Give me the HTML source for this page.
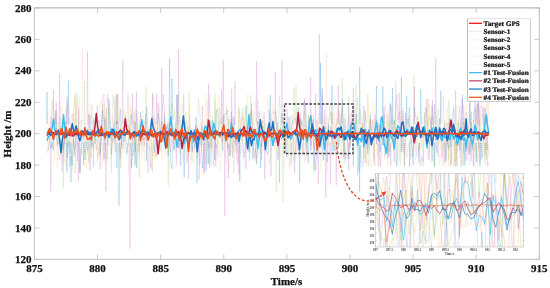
<!DOCTYPE html>
<html><head><meta charset="utf-8"><style>
html,body{margin:0;padding:0;background:#fff;}
svg{display:block;}
text{font-family:"Liberation Serif","Times New Roman",serif;font-weight:bold;fill:#111;stroke:#111;stroke-width:0.25px;}
text.sm{fill:#4a4a4a;stroke:none;font-weight:bold;}
</style></head><body>
<svg width="550" height="288" viewBox="0 0 550 288">
<defs><clipPath id="mclip"><rect x="34.45" y="8.0" width="504.84999999999997" height="251.35000000000002"/></clipPath>
<clipPath id="iclip"><rect x="375.5" y="173.5" width="148.0" height="73.5"/></clipPath></defs>
<rect x="0" y="0" width="550" height="288" fill="#fff"/>
<g clip-path="url(#mclip)"><path d="M47.1,133.8L48.3,133.9L49.6,134.1L50.9,133.3L52.1,133.6L53.4,133.6L54.6,133.2L55.9,133.7L57.2,133.5L58.4,133.7L59.7,133.4L61.0,133.5L62.2,133.6L63.5,133.7L64.7,133.6L66.0,133.4L67.3,134.2L68.5,133.7L69.8,133.8L71.1,133.7L72.3,134.1L73.6,133.5L74.8,133.9L76.1,133.7L77.4,133.8L78.6,134.1L79.9,133.8L81.1,134.1L82.4,133.9L83.7,133.7L84.9,133.7L86.2,133.7L87.5,133.7L88.7,133.2L90.0,133.6L91.2,134.0L92.5,133.8L93.8,133.8L95.0,133.7L96.3,133.8L97.6,133.9L98.8,133.3L100.1,133.7L101.3,133.7L102.6,133.7L103.9,133.7L105.1,133.3L106.4,133.6L107.7,133.4L108.9,134.4L110.2,133.6L111.4,133.4L112.7,133.2L114.0,133.7L115.2,134.1L116.5,133.5L117.8,133.8L119.0,134.1L120.3,133.8L121.5,133.4L122.8,133.4L124.1,133.5L125.3,133.9L126.6,133.1L127.8,133.9L129.1,133.7L130.4,134.0L131.6,133.4L132.9,133.6L134.2,133.5L135.4,133.6L136.7,133.7L137.9,133.6L139.2,134.1L140.5,133.4L141.7,133.5L143.0,133.8L144.3,133.7L145.5,133.6L146.8,133.3L148.0,133.6L149.3,133.7L150.6,133.8L151.8,134.0L153.1,133.8L154.4,133.6L155.6,133.7L156.9,133.6L158.1,133.5L159.4,133.6L160.7,133.6L161.9,133.5L163.2,133.6L164.4,133.7L165.7,133.6L167.0,134.1L168.2,133.4L169.5,134.0L170.8,133.5L172.0,133.7L173.3,133.4L174.5,133.7L175.8,133.9L177.1,133.4L178.3,133.6L179.6,133.6L180.9,133.6L182.1,133.4L183.4,133.5L184.6,133.6L185.9,134.0L187.2,133.8L188.4,133.6L189.7,133.2L191.0,133.6L192.2,133.7L193.5,133.4L194.7,133.7L196.0,133.7L197.3,133.6L198.5,134.0L199.8,133.4L201.1,133.6L202.3,133.7L203.6,133.9L204.8,133.6L206.1,133.3L207.4,133.8L208.6,133.9L209.9,133.6L211.1,134.0L212.4,134.2L213.7,133.8L214.9,133.8L216.2,133.7L217.5,133.8L218.7,133.6L220.0,133.7L221.2,133.8L222.5,133.8L223.8,133.5L225.0,133.4L226.3,133.4L227.6,133.5L228.8,134.4L230.1,133.9L231.3,133.7L232.6,133.6L233.9,134.0L235.1,133.3L236.4,133.6L237.7,133.8L238.9,133.6L240.2,133.7L241.4,133.8L242.7,133.5L244.0,133.8L245.2,134.0L246.5,133.8L247.7,133.7L249.0,133.9L250.3,133.4L251.5,133.9L252.8,133.2L254.1,133.4L255.3,133.9L256.6,133.6L257.8,133.4L259.1,133.7L260.4,133.9L261.6,133.6L262.9,133.2L264.2,134.0L265.4,133.5L266.7,133.7L267.9,133.7L269.2,133.8L270.5,133.7L271.7,133.4L273.0,133.5L274.3,133.9L275.5,133.3L276.8,134.0L278.0,133.5L279.3,133.6L280.6,133.4L281.8,133.6L283.1,133.4L284.4,133.7L285.6,133.4L286.9,133.6L288.1,133.2L289.4,133.8L290.7,133.4L291.9,133.5L293.2,133.6L294.4,133.8L295.7,133.6L297.0,134.0L298.2,134.0L299.5,133.5L300.8,134.0L302.0,133.3L303.3,133.7L304.5,133.6L305.8,133.6L307.1,133.6L308.3,133.7L309.6,133.7L310.9,133.7L312.1,133.4L313.4,133.4L314.6,133.4L315.9,133.6L317.2,133.7L318.4,134.1L319.7,133.5L321.0,133.5L322.2,133.8L323.5,133.5L324.7,133.4L326.0,133.6L327.3,133.4L328.5,133.6L329.8,134.1L331.0,133.8L332.3,133.8L333.6,133.5L334.8,133.9L336.1,133.8L337.4,133.9L338.6,133.7L339.9,133.6L341.1,133.4L342.4,133.5L343.7,133.6L344.9,133.6L346.2,133.6L347.5,133.6L348.7,133.3L350.0,134.2L351.2,133.7L352.5,133.6L353.8,133.4L355.0,133.9L356.3,133.6L357.6,133.5L358.8,133.8L360.1,134.1L361.3,133.7L362.6,133.9L363.9,133.5L365.1,133.9L366.4,133.2L367.7,133.6L368.9,133.8L370.2,133.8L371.4,133.9L372.7,133.6L374.0,133.3L375.2,133.7L376.5,133.4L377.7,133.9L379.0,133.6L380.3,133.1L381.5,134.0L382.8,133.4L384.1,133.4L385.3,134.1L386.6,134.0L387.8,133.9L389.1,133.4L390.4,133.8L391.6,133.7L392.9,133.5L394.2,133.6L395.4,133.6L396.7,133.7L397.9,133.4L399.2,133.8L400.5,133.3L401.7,133.7L403.0,133.8L404.3,133.5L405.5,133.6L406.8,134.1L408.0,133.6L409.3,134.0L410.6,133.9L411.8,133.5L413.1,133.9L414.3,133.6L415.6,133.7L416.9,133.2L418.1,133.7L419.4,133.9L420.7,133.9L421.9,133.9L423.2,133.6L424.4,133.7L425.7,133.4L427.0,133.6L428.2,133.6L429.5,133.6L430.8,133.7L432.0,133.6L433.3,133.5L434.5,133.5L435.8,133.8L437.1,134.1L438.3,133.8L439.6,133.6L440.9,134.2L442.1,133.8L443.4,133.6L444.6,133.8L445.9,133.9L447.2,133.2L448.4,133.3L449.7,133.7L451.0,133.3L452.2,133.4L453.5,133.9L454.7,133.0L456.0,133.9L457.3,133.7L458.5,133.9L459.8,133.6L461.0,134.0L462.3,133.7L463.6,133.4L464.8,133.6L466.1,133.7L467.4,133.3L468.6,133.9L469.9,133.4L471.1,133.7L472.4,133.6L473.7,133.7L474.9,133.6L476.2,133.7L477.5,133.8L478.7,133.8L480.0,133.6L481.2,133.7L482.5,133.9L483.8,133.8L485.0,133.8L486.3,133.7L487.6,133.6L488.8,133.6" stroke="#ff0000" stroke-width="1.3" fill="none"/><path d="M47.1,133.7L48.3,128.5L49.6,138.4L50.9,149.1L52.1,141.5L53.4,150.8L54.6,132.6L55.9,110.5L57.2,142.2L58.4,144.4L59.7,125.2L61.0,127.5L62.2,131.9L63.5,149.8L64.7,134.2L66.0,121.7L67.3,156.9L68.5,141.6L69.8,166.5L71.1,156.0L72.3,165.5L73.6,137.7L74.8,155.6L76.1,129.0L77.4,131.0L78.6,136.9L79.9,172.9L81.1,143.0L82.4,134.5L83.7,131.7L84.9,160.1L86.2,141.9L87.5,150.6L88.7,147.7L90.0,115.3L91.2,147.6L92.5,134.2L93.8,118.4L95.0,143.8L96.3,135.6L97.6,131.8L98.8,132.6L100.1,154.8L101.3,132.4L102.6,110.2L103.9,160.4L105.1,118.8L106.4,131.6L107.7,144.8L108.9,99.1L110.2,120.5L111.4,154.4L112.7,132.4L114.0,123.7L115.2,136.9L116.5,121.9L117.8,134.8L119.0,122.1L120.3,108.8L121.5,145.4L122.8,130.2L124.1,141.7L125.3,131.5L126.6,154.2L127.8,143.7L129.1,137.1L130.4,118.1L131.6,113.9L132.9,156.5L134.2,147.4L135.4,122.5L136.7,168.1L137.9,141.7L139.2,135.4L140.5,112.0L141.7,121.8L143.0,139.3L144.3,140.0L145.5,138.0L146.8,107.3L148.0,141.1L149.3,138.9L150.6,127.6L151.8,135.8L153.1,137.1L154.4,152.9L155.6,133.9L156.9,141.3L158.1,113.5L159.4,122.4L160.7,134.1L161.9,122.1L163.2,139.5L164.4,115.5L165.7,133.8L167.0,123.6L168.2,156.0L169.5,127.7L170.8,162.8L172.0,168.8L173.3,138.9L174.5,149.2L175.8,130.8L177.1,94.9L178.3,148.0L179.6,144.5L180.9,130.1L182.1,125.2L183.4,136.7L184.6,137.2L185.9,121.5L187.2,124.7L188.4,151.5L189.7,135.0L191.0,133.1L192.2,151.9L193.5,129.2L194.7,148.5L196.0,116.9L197.3,130.3L198.5,132.1L199.8,143.9L201.1,135.7L202.3,168.2L203.6,153.2L204.8,127.4L206.1,170.5L207.4,119.0L208.6,163.8L209.9,120.6L211.1,148.3L212.4,120.2L213.7,131.4L214.9,160.2L216.2,112.1L217.5,108.8L218.7,134.8L220.0,138.4L221.2,136.4L222.5,150.5L223.8,114.7L225.0,143.1L226.3,134.6L227.6,147.4L228.8,144.5L230.1,155.8L231.3,112.0L232.6,136.3L233.9,117.0L235.1,133.4L236.4,145.7L237.7,139.3L238.9,143.4L240.2,133.5L241.4,140.2L242.7,138.9L244.0,157.5L245.2,147.6L246.5,105.1L247.7,145.3L249.0,151.9L250.3,127.8L251.5,109.4L252.8,158.8L254.1,137.3L255.3,144.6L256.6,164.1L257.8,121.0L259.1,134.1L260.4,132.4L261.6,146.7L262.9,125.8L264.2,143.0L265.4,136.1L266.7,152.8L267.9,154.7L269.2,110.6L270.5,142.4L271.7,128.6L273.0,134.3L274.3,141.3L275.5,142.5L276.8,122.8L278.0,138.9L279.3,136.3L280.6,133.3L281.8,113.3L283.1,121.9L284.4,127.1L285.6,143.4L286.9,157.6L288.1,117.3L289.4,117.0L290.7,136.1L291.9,124.3L293.2,120.2L294.4,119.3L295.7,117.8L297.0,141.5L298.2,107.5L299.5,155.2L300.8,118.8L302.0,125.1L303.3,118.6L304.5,101.2L305.8,108.0L307.1,153.5L308.3,162.9L309.6,119.6L310.9,151.2L312.1,133.9L313.4,119.2L314.6,162.1L315.9,170.1L317.2,129.2L318.4,132.9L319.7,137.9L321.0,133.0L322.2,148.5L323.5,159.8L324.7,136.6L326.0,150.5L327.3,162.1L328.5,124.9L329.8,134.7L331.0,126.7L332.3,150.8L333.6,145.0L334.8,150.9L336.1,149.0L337.4,130.3L338.6,147.2L339.9,127.5L341.1,127.8L342.4,98.7L343.7,157.7L344.9,118.3L346.2,135.2L347.5,133.9L348.7,158.7L350.0,141.6L351.2,120.8L352.5,135.1L353.8,132.3L355.0,138.7L356.3,113.7L357.6,134.0L358.8,171.7L360.1,145.6L361.3,167.7L362.6,172.9L363.9,142.8L365.1,110.6L366.4,132.9L367.7,153.9L368.9,149.9L370.2,114.1L371.4,131.0L372.7,132.8L374.0,134.6L375.2,133.0L376.5,119.8L377.7,124.1L379.0,129.9L380.3,151.7L381.5,124.8L382.8,145.5L384.1,114.8L385.3,155.6L386.6,136.1L387.8,133.8L389.1,156.6L390.4,103.9L391.6,108.4L392.9,141.7L394.2,120.3L395.4,127.1L396.7,172.9L397.9,129.3L399.2,134.7L400.5,132.2L401.7,152.3L403.0,138.3L404.3,136.8L405.5,113.1L406.8,127.9L408.0,133.8L409.3,107.3L410.6,143.3L411.8,140.4L413.1,165.1L414.3,106.6L415.6,117.0L416.9,117.8L418.1,122.1L419.4,131.8L420.7,130.0L421.9,138.0L423.2,137.2L424.4,132.7L425.7,107.6L427.0,124.1L428.2,134.7L429.5,143.7L430.8,144.6L432.0,106.0L433.3,124.9L434.5,132.5L435.8,139.7L437.1,152.8L438.3,134.8L439.6,118.6L440.9,140.5L442.1,137.6L443.4,137.5L444.6,131.8L445.9,161.2L447.2,137.7L448.4,148.4L449.7,118.4L451.0,147.0L452.2,123.7L453.5,107.3L454.7,139.1L456.0,144.1L457.3,130.4L458.5,133.7L459.8,150.8L461.0,125.7L462.3,98.8L463.6,138.1L464.8,137.2L466.1,151.7L467.4,128.2L468.6,155.2L469.9,152.8L471.1,111.6L472.4,149.3L473.7,115.0L474.9,107.3L476.2,129.2L477.5,124.1L478.7,99.9L480.0,137.1L481.2,143.9L482.5,157.1L483.8,133.0L485.0,108.1L486.3,117.1L487.6,150.0L488.8,148.5M46.55,124.2L47.00,91.9L47.45,124.2M68.05,124.2L68.50,80.5L68.95,124.2M169.15,124.2L169.60,59.0L170.05,124.2M171.55,124.2L172.00,78.5L172.45,124.2M269.85,124.2L270.30,95.0L270.75,124.2M320.05,124.2L320.50,63.0L320.95,124.2M321.75,124.2L322.20,88.0L322.65,124.2M331.55,124.2L332.00,85.3L332.45,124.2M359.25,124.2L359.70,67.2L360.15,124.2M375.95,124.2L376.40,86.0L376.85,124.2M382.35,124.2L382.80,86.7L383.25,124.2M392.05,124.2L392.50,88.0L392.95,124.2M400.95,124.2L401.40,77.0L401.85,124.2M406.25,124.2L406.70,95.5L407.15,124.2M420.35,124.2L420.80,89.4L421.25,124.2M440.35,124.2L440.80,90.8L441.25,124.2M469.35,124.2L469.80,102.5L470.25,124.2M66.45,143.1L66.90,172.0L67.35,143.1M70.55,143.1L71.00,182.0L71.45,143.1M83.05,143.1L83.50,164.8L83.95,143.1M116.45,143.1L116.90,168.0L117.35,143.1M118.55,143.1L119.00,205.6L119.45,143.1M131.05,143.1L131.50,168.0L131.95,143.1M134.55,143.1L135.00,165.8L135.45,143.1M146.25,143.1L146.70,160.6L147.15,143.1M180.35,143.1L180.80,165.8L181.25,143.1M183.75,143.1L184.20,177.3L184.65,143.1M196.55,143.1L197.00,183.0L197.45,143.1M239.35,143.1L239.80,181.5L240.25,143.1M260.15,143.1L260.60,168.0L261.05,143.1M278.95,143.1L279.40,182.5L279.85,143.1M299.15,143.1L299.60,182.5L300.05,143.1M352.85,143.1L353.30,165.8L353.75,143.1M359.15,143.1L359.60,191.9L360.05,143.1M409.15,143.1L409.60,166.9L410.05,143.1M418.55,143.1L419.00,162.7L419.45,143.1M431.57,143.1L432.02,161.0L432.47,143.1M434.09,143.1L434.54,167.3L434.99,143.1M464.38,143.1L464.83,165.3L465.28,143.1M475.74,143.1L476.19,162.4L476.64,143.1M479.53,143.1L479.98,167.4L480.43,143.1" stroke="#1a8fd6" stroke-opacity="0.38" stroke-width="0.75" stroke-dasharray="1.5 0.4" fill="none"/><path d="M47.1,142.4L48.3,128.6L49.6,137.2L50.9,130.0L52.1,128.5L53.4,138.8L54.6,134.4L55.9,130.1L57.2,135.1L58.4,125.0L59.7,101.3L61.0,123.4L62.2,132.7L63.5,162.8L64.7,127.0L66.0,167.3L67.3,158.0L68.5,118.9L69.8,121.5L71.1,136.3L72.3,163.2L73.6,140.1L74.8,145.4L76.1,122.7L77.4,94.7L78.6,129.9L79.9,147.1L81.1,153.9L82.4,134.6L83.7,136.7L84.9,153.6L86.2,131.7L87.5,153.6L88.7,114.5L90.0,115.3L91.2,114.9L92.5,141.9L93.8,124.8L95.0,136.0L96.3,140.4L97.6,139.5L98.8,156.1L100.1,158.6L101.3,119.9L102.6,137.0L103.9,129.9L105.1,116.4L106.4,163.6L107.7,147.2L108.9,130.6L110.2,126.9L111.4,140.2L112.7,115.9L114.0,130.0L115.2,154.6L116.5,149.8L117.8,119.8L119.0,125.7L120.3,166.5L121.5,110.4L122.8,123.3L124.1,110.5L125.3,140.3L126.6,138.8L127.8,153.1L129.1,94.4L130.4,136.7L131.6,106.2L132.9,144.9L134.2,130.8L135.4,162.6L136.7,140.3L137.9,116.7L139.2,155.3L140.5,115.1L141.7,127.8L143.0,151.7L144.3,142.3L145.5,141.6L146.8,134.5L148.0,142.9L149.3,148.0L150.6,138.9L151.8,151.4L153.1,156.0L154.4,134.5L155.6,118.4L156.9,160.1L158.1,133.6L159.4,144.9L160.7,150.6L161.9,118.9L163.2,142.6L164.4,107.8L165.7,147.2L167.0,127.0L168.2,137.6L169.5,146.7L170.8,123.5L172.0,136.4L173.3,123.3L174.5,134.5L175.8,152.4L177.1,135.4L178.3,132.8L179.6,117.1L180.9,149.3L182.1,134.4L183.4,163.4L184.6,122.4L185.9,152.4L187.2,164.9L188.4,134.7L189.7,114.6L191.0,160.0L192.2,152.5L193.5,146.5L194.7,153.2L196.0,127.1L197.3,147.6L198.5,146.1L199.8,123.6L201.1,146.7L202.3,126.2L203.6,150.5L204.8,154.6L206.1,165.4L207.4,101.5L208.6,139.2L209.9,129.5L211.1,134.2L212.4,130.9L213.7,132.8L214.9,100.7L216.2,151.6L217.5,160.6L218.7,151.2L220.0,156.7L221.2,120.8L222.5,119.5L223.8,150.3L225.0,157.7L226.3,139.8L227.6,109.6L228.8,172.9L230.1,124.6L231.3,152.3L232.6,115.7L233.9,152.3L235.1,138.6L236.4,159.7L237.7,150.6L238.9,109.7L240.2,119.5L241.4,140.6L242.7,148.7L244.0,166.4L245.2,140.5L246.5,134.2L247.7,135.1L249.0,135.3L250.3,153.1L251.5,134.8L252.8,134.3L254.1,111.4L255.3,101.4L256.6,136.0L257.8,146.9L259.1,134.8L260.4,144.2L261.6,146.5L262.9,134.7L264.2,151.7L265.4,123.2L266.7,135.5L267.9,129.4L269.2,136.8L270.5,146.2L271.7,150.1L273.0,137.8L274.3,143.2L275.5,129.6L276.8,133.8L278.0,157.2L279.3,132.5L280.6,156.9L281.8,144.3L283.1,138.8L284.4,169.5L285.6,132.1L286.9,131.1L288.1,136.4L289.4,141.0L290.7,140.1L291.9,150.5L293.2,138.3L294.4,143.2L295.7,132.1L297.0,154.5L298.2,129.6L299.5,131.2L300.8,136.1L302.0,141.3L303.3,124.1L304.5,162.4L305.8,125.7L307.1,129.5L308.3,128.8L309.6,127.1L310.9,145.0L312.1,138.2L313.4,122.7L314.6,126.2L315.9,130.1L317.2,159.8L318.4,124.4L319.7,113.5L321.0,116.2L322.2,129.6L323.5,160.6L324.7,117.4L326.0,136.2L327.3,172.9L328.5,127.2L329.8,159.5L331.0,156.1L332.3,144.6L333.6,111.7L334.8,140.1L336.1,129.0L337.4,103.5L338.6,106.1L339.9,135.5L341.1,137.8L342.4,155.5L343.7,145.7L344.9,126.3L346.2,126.8L347.5,131.8L348.7,116.5L350.0,147.0L351.2,134.6L352.5,121.0L353.8,123.6L355.0,115.2L356.3,126.8L357.6,139.0L358.8,127.4L360.1,151.0L361.3,162.0L362.6,123.6L363.9,134.6L365.1,128.3L366.4,163.0L367.7,140.0L368.9,144.0L370.2,148.6L371.4,172.6L372.7,139.5L374.0,118.2L375.2,127.1L376.5,144.1L377.7,133.9L379.0,120.6L380.3,172.9L381.5,135.8L382.8,124.3L384.1,121.9L385.3,104.3L386.6,114.1L387.8,128.3L389.1,128.5L390.4,120.1L391.6,143.0L392.9,134.4L394.2,118.0L395.4,99.8L396.7,136.4L397.9,134.5L399.2,130.2L400.5,110.5L401.7,134.2L403.0,108.3L404.3,150.4L405.5,136.9L406.8,137.1L408.0,120.1L409.3,115.6L410.6,159.8L411.8,149.5L413.1,127.9L414.3,145.1L415.6,160.0L416.9,115.7L418.1,125.1L419.4,125.2L420.7,141.9L421.9,115.9L423.2,137.8L424.4,114.7L425.7,149.4L427.0,148.4L428.2,130.1L429.5,145.8L430.8,122.0L432.0,129.2L433.3,149.6L434.5,132.4L435.8,139.7L437.1,117.8L438.3,144.6L439.6,141.3L440.9,112.7L442.1,95.0L443.4,99.1L444.6,132.6L445.9,129.9L447.2,107.2L448.4,135.8L449.7,150.5L451.0,131.7L452.2,125.9L453.5,148.0L454.7,162.1L456.0,158.5L457.3,122.2L458.5,146.8L459.8,136.1L461.0,130.0L462.3,123.0L463.6,139.5L464.8,125.1L466.1,149.1L467.4,139.9L468.6,151.4L469.9,114.1L471.1,134.1L472.4,146.5L473.7,139.8L474.9,137.5L476.2,121.6L477.5,161.2L478.7,151.6L480.0,140.2L481.2,94.4L482.5,117.2L483.8,135.6L485.0,121.4L486.3,98.1L487.6,137.7L488.8,140.0M82.15,124.2L82.60,48.0L83.05,124.2M325.95,124.2L326.40,52.0L326.85,124.2M111.25,143.1L111.70,160.6L112.15,143.1M127.85,143.1L128.30,174.0L128.75,143.1M304.95,143.1L305.40,160.6L305.85,143.1M384.15,143.1L384.60,159.6L385.05,143.1M442.93,143.1L443.38,167.9L443.83,143.1M445.45,143.1L445.90,167.4L446.35,143.1M455.55,143.1L456.00,166.2L456.45,143.1M466.91,143.1L467.36,160.3L467.81,143.1M469.43,143.1L469.88,165.7L470.33,143.1M487.10,143.1L487.55,167.6L488.00,143.1" stroke="#e0603a" stroke-opacity="0.12" stroke-width="0.75" stroke-dasharray="1.5 0.4" fill="none"/><path d="M47.1,112.7L48.3,125.1L49.6,122.1L50.9,142.5L52.1,100.4L53.4,104.1L54.6,123.9L55.9,121.9L57.2,168.7L58.4,122.7L59.7,137.0L61.0,126.2L62.2,121.9L63.5,139.6L64.7,162.9L66.0,127.3L67.3,146.5L68.5,139.4L69.8,144.1L71.1,139.6L72.3,172.9L73.6,112.6L74.8,129.3L76.1,114.5L77.4,99.5L78.6,133.3L79.9,164.8L81.1,149.1L82.4,154.5L83.7,142.3L84.9,132.3L86.2,168.3L87.5,127.8L88.7,159.8L90.0,128.5L91.2,135.6L92.5,139.1L93.8,134.9L95.0,143.0L96.3,144.3L97.6,162.8L98.8,134.2L100.1,101.8L101.3,99.5L102.6,110.8L103.9,121.5L105.1,145.4L106.4,108.7L107.7,134.6L108.9,134.9L110.2,138.7L111.4,132.1L112.7,141.2L114.0,135.1L115.2,152.4L116.5,140.1L117.8,94.4L119.0,134.9L120.3,137.8L121.5,124.5L122.8,121.4L124.1,152.9L125.3,137.3L126.6,117.8L127.8,129.0L129.1,131.6L130.4,106.8L131.6,145.4L132.9,132.2L134.2,142.7L135.4,107.9L136.7,167.4L137.9,145.3L139.2,142.8L140.5,122.2L141.7,123.2L143.0,109.6L144.3,160.9L145.5,120.7L146.8,138.7L148.0,145.2L149.3,124.4L150.6,149.6L151.8,169.6L153.1,140.1L154.4,159.6L155.6,144.9L156.9,127.3L158.1,128.3L159.4,106.3L160.7,137.1L161.9,160.2L163.2,146.7L164.4,149.6L165.7,154.7L167.0,126.2L168.2,144.8L169.5,167.8L170.8,121.6L172.0,135.6L173.3,127.5L174.5,131.8L175.8,122.8L177.1,133.0L178.3,112.3L179.6,126.3L180.9,126.9L182.1,126.6L183.4,158.8L184.6,136.5L185.9,138.2L187.2,130.1L188.4,157.2L189.7,105.4L191.0,131.9L192.2,154.6L193.5,163.2L194.7,138.5L196.0,135.2L197.3,146.1L198.5,132.1L199.8,144.8L201.1,124.1L202.3,146.2L203.6,134.3L204.8,116.8L206.1,94.4L207.4,151.1L208.6,141.7L209.9,148.2L211.1,120.1L212.4,153.5L213.7,142.0L214.9,134.2L216.2,150.6L217.5,150.2L218.7,141.9L220.0,170.0L221.2,158.7L222.5,140.8L223.8,131.1L225.0,136.9L226.3,164.3L227.6,141.7L228.8,119.9L230.1,124.1L231.3,135.0L232.6,149.0L233.9,122.8L235.1,143.7L236.4,153.9L237.7,147.5L238.9,108.6L240.2,129.9L241.4,113.6L242.7,142.0L244.0,117.5L245.2,144.1L246.5,136.4L247.7,94.4L249.0,120.4L250.3,142.3L251.5,135.1L252.8,128.0L254.1,112.8L255.3,142.1L256.6,163.8L257.8,138.5L259.1,133.4L260.4,131.8L261.6,110.9L262.9,128.2L264.2,119.6L265.4,152.7L266.7,118.7L267.9,97.5L269.2,120.3L270.5,129.3L271.7,131.0L273.0,102.8L274.3,149.7L275.5,135.6L276.8,125.7L278.0,120.8L279.3,141.2L280.6,128.4L281.8,138.5L283.1,131.6L284.4,136.0L285.6,153.4L286.9,134.0L288.1,118.5L289.4,150.4L290.7,137.8L291.9,122.2L293.2,152.2L294.4,130.5L295.7,152.0L297.0,114.1L298.2,94.4L299.5,98.7L300.8,137.5L302.0,120.9L303.3,131.6L304.5,131.9L305.8,106.9L307.1,156.5L308.3,115.4L309.6,134.5L310.9,109.3L312.1,130.4L313.4,145.3L314.6,128.9L315.9,121.0L317.2,133.1L318.4,125.2L319.7,142.7L321.0,170.5L322.2,118.1L323.5,121.6L324.7,131.1L326.0,132.5L327.3,115.8L328.5,141.6L329.8,145.9L331.0,136.9L332.3,113.1L333.6,157.6L334.8,113.1L336.1,144.7L337.4,152.7L338.6,111.9L339.9,135.3L341.1,156.1L342.4,139.9L343.7,117.6L344.9,113.1L346.2,141.1L347.5,126.7L348.7,121.3L350.0,144.8L351.2,127.5L352.5,134.2L353.8,142.9L355.0,142.2L356.3,132.5L357.6,133.2L358.8,143.4L360.1,141.0L361.3,114.4L362.6,130.0L363.9,118.4L365.1,112.9L366.4,123.5L367.7,94.4L368.9,147.9L370.2,119.7L371.4,139.2L372.7,101.6L374.0,104.3L375.2,167.4L376.5,150.4L377.7,122.2L379.0,120.0L380.3,120.9L381.5,134.9L382.8,125.8L384.1,122.4L385.3,135.0L386.6,115.9L387.8,172.7L389.1,122.7L390.4,151.5L391.6,117.1L392.9,137.6L394.2,149.0L395.4,127.2L396.7,149.4L397.9,149.4L399.2,160.8L400.5,134.1L401.7,125.1L403.0,116.0L404.3,136.1L405.5,115.6L406.8,133.4L408.0,135.3L409.3,123.8L410.6,115.4L411.8,139.6L413.1,137.9L414.3,136.5L415.6,132.2L416.9,149.2L418.1,115.9L419.4,140.6L420.7,125.7L421.9,147.9L423.2,127.5L424.4,126.9L425.7,140.9L427.0,98.8L428.2,127.3L429.5,103.0L430.8,117.1L432.0,145.1L433.3,140.3L434.5,126.1L435.8,132.6L437.1,132.8L438.3,138.6L439.6,164.9L440.9,137.6L442.1,172.0L443.4,127.2L444.6,146.2L445.9,146.0L447.2,137.5L448.4,129.0L449.7,158.4L451.0,163.9L452.2,152.1L453.5,169.0L454.7,150.4L456.0,106.2L457.3,151.9L458.5,122.4L459.8,157.4L461.0,128.5L462.3,139.2L463.6,134.7L464.8,123.8L466.1,103.3L467.4,130.3L468.6,131.5L469.9,150.5L471.1,123.6L472.4,137.9L473.7,119.3L474.9,134.4L476.2,103.6L477.5,167.9L478.7,138.8L480.0,118.4L481.2,139.7L482.5,147.4L483.8,138.3L485.0,157.5L486.3,131.6L487.6,94.4L488.8,113.9M61.45,124.2L61.90,104.8L62.35,124.2M73.95,124.2L74.40,99.6L74.85,124.2M79.15,124.2L79.60,96.5L80.05,124.2M89.55,124.2L90.00,103.8L90.45,124.2M104.15,124.2L104.60,104.8L105.05,124.2M109.35,124.2L109.80,103.8L110.25,124.2M218.45,124.2L218.90,95.0L219.35,124.2M367.55,124.2L368.00,93.6L368.45,124.2M428.05,124.2L428.50,98.8L428.95,124.2M443.05,124.2L443.50,96.4L443.95,124.2M487.55,124.2L488.00,105.0L488.45,124.2M53.95,143.1L54.40,161.7L54.85,143.1M101.85,143.1L102.30,165.8L102.75,143.1M141.45,143.1L141.90,159.6L142.35,143.1M191.45,143.1L191.90,164.8L192.35,143.1M254.95,143.1L255.40,160.6L255.85,143.1M366.45,143.1L366.90,165.8L367.35,143.1M432.83,143.1L433.28,163.3L433.73,143.1M447.98,143.1L448.43,165.7L448.88,143.1M455.55,143.1L456.00,160.9L456.45,143.1" stroke="#e8b030" stroke-opacity="0.2" stroke-width="0.75" stroke-dasharray="1.5 0.4" fill="none"/><path d="M47.1,152.8L48.3,148.8L49.6,140.7L50.9,116.3L52.1,147.9L53.4,145.6L54.6,118.4L55.9,118.7L57.2,140.1L58.4,153.0L59.7,160.5L61.0,145.8L62.2,172.2L63.5,120.7L64.7,144.6L66.0,125.4L67.3,101.4L68.5,113.4L69.8,153.6L71.1,118.7L72.3,113.7L73.6,146.6L74.8,150.1L76.1,135.6L77.4,161.3L78.6,108.3L79.9,172.9L81.1,152.8L82.4,138.3L83.7,137.6L84.9,130.8L86.2,129.0L87.5,137.4L88.7,114.0L90.0,170.6L91.2,133.7L92.5,146.0L93.8,131.4L95.0,129.9L96.3,149.4L97.6,144.8L98.8,120.0L100.1,127.6L101.3,145.4L102.6,98.4L103.9,94.4L105.1,158.9L106.4,128.5L107.7,94.4L108.9,120.1L110.2,129.9L111.4,137.3L112.7,143.0L114.0,137.3L115.2,143.2L116.5,120.8L117.8,140.6L119.0,141.3L120.3,154.4L121.5,134.5L122.8,149.1L124.1,136.8L125.3,115.7L126.6,127.4L127.8,125.0L129.1,127.5L130.4,132.7L131.6,135.9L132.9,139.0L134.2,120.6L135.4,152.4L136.7,110.5L137.9,133.1L139.2,146.6L140.5,142.1L141.7,145.4L143.0,130.9L144.3,146.1L145.5,113.9L146.8,147.2L148.0,172.9L149.3,146.3L150.6,168.4L151.8,134.4L153.1,115.4L154.4,122.5L155.6,156.8L156.9,146.8L158.1,102.9L159.4,128.2L160.7,133.6L161.9,115.4L163.2,94.4L164.4,111.3L165.7,131.3L167.0,127.5L168.2,123.0L169.5,144.3L170.8,152.0L172.0,132.8L173.3,150.0L174.5,134.7L175.8,132.0L177.1,94.4L178.3,148.4L179.6,135.8L180.9,136.5L182.1,126.1L183.4,115.6L184.6,142.2L185.9,147.9L187.2,162.0L188.4,149.7L189.7,124.4L191.0,132.9L192.2,151.2L193.5,140.1L194.7,133.1L196.0,125.0L197.3,143.9L198.5,138.0L199.8,165.1L201.1,153.6L202.3,105.7L203.6,171.5L204.8,139.5L206.1,129.9L207.4,140.1L208.6,147.6L209.9,134.7L211.1,133.8L212.4,135.1L213.7,166.1L214.9,136.2L216.2,148.5L217.5,143.1L218.7,129.8L220.0,122.6L221.2,118.2L222.5,142.3L223.8,117.7L225.0,113.4L226.3,114.0L227.6,109.7L228.8,136.2L230.1,136.7L231.3,119.4L232.6,157.3L233.9,130.1L235.1,142.8L236.4,140.0L237.7,163.8L238.9,149.1L240.2,134.0L241.4,118.3L242.7,116.6L244.0,135.1L245.2,136.9L246.5,148.0L247.7,126.7L249.0,138.0L250.3,123.2L251.5,103.4L252.8,134.2L254.1,159.5L255.3,148.6L256.6,158.9L257.8,154.4L259.1,111.1L260.4,129.8L261.6,159.9L262.9,122.4L264.2,111.9L265.4,139.9L266.7,145.4L267.9,139.5L269.2,128.8L270.5,122.6L271.7,113.2L273.0,112.7L274.3,113.2L275.5,110.1L276.8,122.2L278.0,160.1L279.3,135.9L280.6,128.3L281.8,140.3L283.1,117.9L284.4,139.9L285.6,149.7L286.9,108.7L288.1,122.2L289.4,129.9L290.7,117.7L291.9,115.3L293.2,127.8L294.4,172.9L295.7,145.3L297.0,141.6L298.2,150.7L299.5,130.2L300.8,113.1L302.0,142.1L303.3,153.3L304.5,98.6L305.8,141.5L307.1,155.0L308.3,129.6L309.6,126.3L310.9,145.9L312.1,120.0L313.4,142.1L314.6,149.6L315.9,130.6L317.2,120.4L318.4,144.6L319.7,128.0L321.0,135.3L322.2,94.4L323.5,145.9L324.7,109.8L326.0,134.6L327.3,135.9L328.5,121.2L329.8,118.2L331.0,111.8L332.3,128.0L333.6,144.1L334.8,143.0L336.1,124.9L337.4,123.6L338.6,109.5L339.9,126.4L341.1,115.4L342.4,107.5L343.7,130.8L344.9,159.3L346.2,154.1L347.5,158.5L348.7,106.2L350.0,148.3L351.2,112.4L352.5,123.6L353.8,104.0L355.0,116.3L356.3,135.4L357.6,137.1L358.8,132.2L360.1,130.6L361.3,142.8L362.6,134.2L363.9,105.9L365.1,163.1L366.4,129.2L367.7,149.3L368.9,130.4L370.2,119.2L371.4,134.7L372.7,120.3L374.0,161.1L375.2,114.5L376.5,144.1L377.7,122.9L379.0,130.5L380.3,172.9L381.5,146.7L382.8,129.9L384.1,106.8L385.3,128.7L386.6,129.2L387.8,158.1L389.1,108.9L390.4,102.4L391.6,133.2L392.9,137.5L394.2,161.7L395.4,118.4L396.7,94.4L397.9,121.3L399.2,111.8L400.5,124.3L401.7,150.7L403.0,110.6L404.3,155.0L405.5,137.3L406.8,128.9L408.0,118.4L409.3,126.5L410.6,127.0L411.8,146.8L413.1,156.0L414.3,132.6L415.6,145.9L416.9,156.3L418.1,155.6L419.4,142.1L420.7,165.7L421.9,157.0L423.2,161.9L424.4,130.5L425.7,126.6L427.0,99.0L428.2,159.6L429.5,145.4L430.8,117.9L432.0,137.4L433.3,139.3L434.5,104.1L435.8,139.5L437.1,153.7L438.3,156.4L439.6,127.9L440.9,128.4L442.1,157.4L443.4,150.7L444.6,124.4L445.9,123.7L447.2,144.8L448.4,122.9L449.7,123.8L451.0,164.5L452.2,139.1L453.5,126.5L454.7,143.6L456.0,170.6L457.3,138.6L458.5,120.7L459.8,106.4L461.0,171.5L462.3,94.4L463.6,153.2L464.8,117.1L466.1,112.3L467.4,116.7L468.6,131.1L469.9,153.7L471.1,122.8L472.4,146.0L473.7,172.9L474.9,94.4L476.2,121.4L477.5,102.3L478.7,149.4L480.0,108.3L481.2,106.2L482.5,106.8L483.8,134.0L485.0,154.5L486.3,136.7L487.6,171.7L488.8,163.1M53.05,124.2L53.50,89.5L53.95,124.2M59.15,124.2L59.60,73.7L60.05,124.2M87.05,124.2L87.50,51.4L87.95,124.2M116.15,124.2L116.60,94.3L117.05,124.2M55.80,124.2L56.25,101.7L56.70,124.2M66.65,124.2L67.10,96.5L67.55,124.2M96.85,124.2L97.30,105.8L97.75,124.2M114.55,124.2L115.00,96.5L115.45,124.2M122.35,124.2L122.80,60.3L123.25,124.2M132.05,124.2L132.50,94.0L132.95,124.2M135.95,124.2L136.40,92.0L136.85,124.2M152.15,124.2L152.60,92.6L153.05,124.2M156.25,124.2L156.70,93.6L157.15,124.2M161.35,124.2L161.80,67.6L162.25,124.2M178.15,124.2L178.60,49.0L179.05,124.2M183.25,124.2L183.70,94.0L184.15,124.2M208.15,124.2L208.60,84.0L209.05,124.2M221.25,124.2L221.70,89.4L222.15,124.2M222.85,124.2L223.30,60.3L223.75,124.2M231.25,124.2L231.70,88.9L232.15,124.2M234.55,124.2L235.00,81.7L235.45,124.2M256.25,124.2L256.70,61.0L257.15,124.2M274.85,124.2L275.30,72.2L275.75,124.2M281.55,124.2L282.00,59.4L282.45,124.2M310.15,124.2L310.60,77.0L311.05,124.2M315.15,124.2L315.60,93.6L316.05,124.2M318.95,124.2L319.40,33.9L319.85,124.2M337.85,124.2L338.30,85.3L338.75,124.2M352.85,124.2L353.30,88.0L353.75,124.2M398.75,124.2L399.20,92.8L399.65,124.2M413.95,124.2L414.40,86.7L414.85,124.2M435.35,124.2L435.80,57.5L436.25,124.2M455.15,124.2L455.60,90.8L456.05,124.2M432.15,124.2L432.60,100.0L433.05,124.2M477.85,124.2L478.30,103.7L478.75,124.2M483.15,124.2L483.60,107.0L484.05,124.2M50.35,143.1L50.80,191.3L51.25,143.1M77.85,143.1L78.30,180.8L78.75,143.1M92.85,143.1L93.30,167.5L93.75,143.1M99.75,143.1L100.20,169.6L100.65,143.1M105.55,143.1L106.00,191.3L106.45,143.1M129.55,143.1L130.00,248.8L130.45,143.1M175.85,143.1L176.30,164.8L176.75,143.1M188.30,143.1L188.75,179.4L189.20,143.1M198.75,143.1L199.20,179.4L199.65,143.1M203.95,143.1L204.40,174.0L204.85,143.1M209.15,143.1L209.60,168.0L210.05,143.1M215.35,143.1L215.80,166.9L216.25,143.1M224.35,143.1L224.80,215.8L225.25,143.1M227.85,143.1L228.30,178.3L228.75,143.1M238.30,143.1L238.75,174.0L239.20,143.1M245.55,143.1L246.00,169.0L246.45,143.1M249.15,143.1L249.60,160.6L250.05,143.1M264.35,143.1L264.80,179.4L265.25,143.1M270.55,143.1L271.00,176.2L271.45,143.1M290.80,143.1L291.25,164.8L291.70,143.1M313.30,143.1L313.75,170.0L314.20,143.1M317.85,143.1L318.30,183.5L318.75,143.1M325.35,143.1L325.80,198.0L326.25,143.1M329.95,143.1L330.40,184.6L330.85,143.1M335.80,143.1L336.25,185.6L336.70,143.1M348.30,143.1L348.75,170.0L349.20,143.1M377.85,143.1L378.30,166.9L378.75,143.1M390.35,143.1L390.80,165.8L391.25,143.1M403.95,143.1L404.40,165.8L404.85,143.1M444.19,143.1L444.64,162.7L445.09,143.1M465.65,143.1L466.10,160.4L466.55,143.1M470.70,143.1L471.15,161.0L471.60,143.1M480.79,143.1L481.24,160.3L481.69,143.1" stroke="#c058c0" stroke-opacity="0.32" stroke-width="0.75" stroke-dasharray="1.5 0.4" fill="none"/><path d="M47.1,132.1L48.3,150.8L49.6,136.5L50.9,135.6L52.1,100.3L53.4,111.3L54.6,134.5L55.9,112.8L57.2,147.1L58.4,139.5L59.7,117.9L61.0,155.1L62.2,138.5L63.5,156.5L64.7,131.6L66.0,105.5L67.3,146.7L68.5,129.8L69.8,149.2L71.1,153.5L72.3,155.0L73.6,108.5L74.8,94.4L76.1,125.3L77.4,146.1L78.6,121.5L79.9,139.5L81.1,119.8L82.4,128.6L83.7,128.8L84.9,123.2L86.2,143.7L87.5,140.7L88.7,163.4L90.0,141.3L91.2,158.3L92.5,136.2L93.8,150.2L95.0,131.9L96.3,125.8L97.6,158.2L98.8,147.7L100.1,150.0L101.3,120.8L102.6,104.2L103.9,119.0L105.1,139.7L106.4,108.4L107.7,159.8L108.9,107.8L110.2,145.0L111.4,172.9L112.7,94.4L114.0,106.4L115.2,151.5L116.5,130.8L117.8,137.4L119.0,131.9L120.3,159.3L121.5,145.5L122.8,125.6L124.1,129.8L125.3,113.0L126.6,132.3L127.8,94.4L129.1,146.0L130.4,129.2L131.6,166.8L132.9,155.3L134.2,110.7L135.4,150.0L136.7,124.5L137.9,134.7L139.2,151.7L140.5,139.7L141.7,142.6L143.0,142.1L144.3,120.7L145.5,122.4L146.8,143.7L148.0,149.4L149.3,128.8L150.6,135.4L151.8,115.9L153.1,94.4L154.4,119.1L155.6,134.3L156.9,136.6L158.1,148.5L159.4,149.3L160.7,151.0L161.9,140.5L163.2,141.1L164.4,120.8L165.7,140.6L167.0,137.1L168.2,154.7L169.5,105.3L170.8,124.9L172.0,102.8L173.3,119.9L174.5,107.9L175.8,138.0L177.1,121.3L178.3,94.4L179.6,154.8L180.9,113.3L182.1,104.3L183.4,126.4L184.6,120.5L185.9,111.6L187.2,145.3L188.4,126.5L189.7,149.0L191.0,145.6L192.2,144.6L193.5,136.2L194.7,131.1L196.0,125.7L197.3,158.7L198.5,98.7L199.8,113.2L201.1,120.8L202.3,140.0L203.6,135.3L204.8,124.0L206.1,126.4L207.4,163.4L208.6,120.6L209.9,94.4L211.1,166.4L212.4,116.1L213.7,127.1L214.9,135.7L216.2,109.4L217.5,154.6L218.7,130.8L220.0,107.7L221.2,137.2L222.5,141.1L223.8,131.6L225.0,141.6L226.3,106.2L227.6,149.8L228.8,118.2L230.1,155.9L231.3,121.8L232.6,135.5L233.9,172.9L235.1,133.8L236.4,152.6L237.7,141.6L238.9,106.3L240.2,153.5L241.4,152.5L242.7,108.1L244.0,131.6L245.2,106.3L246.5,127.9L247.7,149.3L249.0,134.9L250.3,111.8L251.5,117.0L252.8,133.7L254.1,132.8L255.3,135.7L256.6,144.0L257.8,99.4L259.1,133.5L260.4,153.8L261.6,142.1L262.9,120.8L264.2,122.3L265.4,136.1L266.7,145.6L267.9,133.3L269.2,163.4L270.5,156.8L271.7,119.5L273.0,142.2L274.3,127.0L275.5,112.0L276.8,122.1L278.0,133.3L279.3,95.9L280.6,121.8L281.8,140.0L283.1,120.7L284.4,126.4L285.6,148.9L286.9,132.4L288.1,136.6L289.4,168.6L290.7,136.7L291.9,138.7L293.2,141.5L294.4,162.9L295.7,140.0L297.0,134.4L298.2,131.9L299.5,153.8L300.8,122.4L302.0,155.3L303.3,137.7L304.5,110.5L305.8,146.0L307.1,142.7L308.3,114.6L309.6,140.5L310.9,138.9L312.1,129.7L313.4,115.0L314.6,172.8L315.9,148.4L317.2,151.6L318.4,152.9L319.7,148.8L321.0,148.6L322.2,128.3L323.5,149.4L324.7,131.5L326.0,126.6L327.3,146.6L328.5,131.4L329.8,104.7L331.0,128.0L332.3,145.0L333.6,134.8L334.8,149.9L336.1,128.9L337.4,118.4L338.6,148.2L339.9,137.4L341.1,114.0L342.4,142.5L343.7,130.4L344.9,151.8L346.2,148.1L347.5,142.7L348.7,96.1L350.0,140.7L351.2,142.8L352.5,143.4L353.8,136.5L355.0,122.3L356.3,130.4L357.6,98.1L358.8,130.0L360.1,108.7L361.3,128.9L362.6,123.2L363.9,158.6L365.1,135.9L366.4,134.9L367.7,137.9L368.9,170.9L370.2,118.5L371.4,140.4L372.7,141.2L374.0,138.1L375.2,137.6L376.5,126.6L377.7,155.6L379.0,149.8L380.3,128.7L381.5,131.2L382.8,140.2L384.1,143.6L385.3,148.1L386.6,134.7L387.8,113.3L389.1,152.0L390.4,107.4L391.6,119.1L392.9,141.5L394.2,120.1L395.4,159.0L396.7,163.6L397.9,156.0L399.2,140.8L400.5,139.3L401.7,142.6L403.0,132.0L404.3,170.6L405.5,125.1L406.8,158.2L408.0,145.1L409.3,140.8L410.6,153.7L411.8,157.4L413.1,151.1L414.3,133.9L415.6,123.5L416.9,123.9L418.1,150.9L419.4,147.4L420.7,149.6L421.9,125.9L423.2,168.9L424.4,112.3L425.7,142.1L427.0,147.2L428.2,127.8L429.5,115.8L430.8,127.8L432.0,115.5L433.3,131.4L434.5,112.4L435.8,112.2L437.1,135.4L438.3,108.8L439.6,130.8L440.9,132.2L442.1,149.6L443.4,138.7L444.6,120.2L445.9,156.4L447.2,122.4L448.4,127.7L449.7,128.9L451.0,171.8L452.2,135.5L453.5,122.5L454.7,146.9L456.0,132.1L457.3,172.9L458.5,122.1L459.8,145.1L461.0,118.6L462.3,165.5L463.6,121.7L464.8,137.8L466.1,119.7L467.4,149.7L468.6,144.4L469.9,94.9L471.1,148.0L472.4,145.9L473.7,138.5L474.9,151.3L476.2,113.1L477.5,103.9L478.7,145.8L480.0,163.5L481.2,113.4L482.5,114.5L483.8,119.5L485.0,113.7L486.3,148.7L487.6,136.6L488.8,157.6M75.55,124.2L76.00,92.0L76.45,124.2M84.15,124.2L84.60,81.0L85.05,124.2M91.55,124.2L92.00,104.8L92.45,124.2M116.55,124.2L117.00,94.4L117.45,124.2M117.45,124.2L117.90,94.0L118.35,124.2M145.55,124.2L146.00,87.0L146.45,124.2M188.55,124.2L189.00,92.0L189.45,124.2M214.55,124.2L215.00,93.6L215.45,124.2M250.35,124.2L250.80,95.0L251.25,124.2M293.45,124.2L293.90,88.0L294.35,124.2M295.55,124.2L296.00,84.4L296.45,124.2M341.75,124.2L342.20,78.3L342.65,124.2M355.65,124.2L356.10,85.3L356.55,124.2M395.35,124.2L395.80,81.0L396.25,124.2M413.45,124.2L413.90,74.0L414.35,124.2M448.55,124.2L449.00,100.0L449.45,124.2M463.25,124.2L463.70,105.0L464.15,124.2M62.85,143.1L63.30,187.7L63.75,143.1M74.75,143.1L75.20,173.0L75.65,143.1M120.55,143.1L121.00,168.0L121.45,143.1M138.75,143.1L139.20,177.3L139.65,143.1M151.85,143.1L152.30,173.0L152.75,143.1M167.85,143.1L168.30,185.6L168.75,143.1M275.80,143.1L276.25,191.9L276.70,143.1M282.45,143.1L282.90,202.3L283.35,143.1M344.55,143.1L345.00,163.7L345.45,143.1M357.05,143.1L357.50,176.2L357.95,143.1M373.75,143.1L374.20,164.8L374.65,143.1M399.75,143.1L400.20,164.8L400.65,143.1M429.05,143.1L429.50,160.0L429.95,143.1M434.09,143.1L434.54,167.0L434.99,143.1M447.98,143.1L448.43,159.3L448.88,143.1M454.29,143.1L454.74,168.0L455.19,143.1M463.12,143.1L463.57,166.4L464.02,143.1M473.22,143.1L473.67,165.9L474.12,143.1M475.74,143.1L476.19,158.7L476.64,143.1M484.58,143.1L485.03,164.5L485.48,143.1M485.84,143.1L486.29,159.8L486.74,143.1" stroke="#80b040" stroke-opacity="0.26" stroke-width="0.75" stroke-dasharray="1.5 0.4" fill="none"/><path d="M47.1,140.7L48.3,136.7L49.6,135.9L50.9,132.9L52.1,128.5L53.4,119.0L54.6,128.5L55.9,132.8L57.2,132.2L58.4,130.7L59.7,133.9L61.0,134.1L62.2,129.3L63.5,114.8L64.7,127.0L66.0,137.4L67.3,135.4L68.5,133.2L69.8,130.2L71.1,133.0L72.3,134.7L73.6,133.5L74.8,131.0L76.1,132.9L77.4,132.9L78.6,132.6L79.9,132.9L81.1,133.6L82.4,133.6L83.7,134.8L84.9,132.4L86.2,134.7L87.5,132.9L88.7,131.7L90.0,133.3L91.2,135.3L92.5,134.7L93.8,132.8L95.0,131.9L96.3,132.9L97.6,132.7L98.8,134.3L100.1,134.0L101.3,135.7L102.6,134.0L103.9,135.9L105.1,137.1L106.4,133.3L107.7,132.2L108.9,137.4L110.2,133.7L111.4,128.9L112.7,130.2L114.0,129.1L115.2,133.3L116.5,135.1L117.8,134.7L119.0,133.1L120.3,132.2L121.5,131.6L122.8,134.8L124.1,132.5L125.3,133.7L126.6,133.7L127.8,131.9L129.1,132.5L130.4,136.8L131.6,136.3L132.9,134.6L134.2,133.4L135.4,131.6L136.7,134.8L137.9,134.2L139.2,132.6L140.5,128.4L141.7,119.8L143.0,127.8L144.3,132.6L145.5,132.8L146.8,133.0L148.0,131.2L149.3,135.7L150.6,133.5L151.8,133.3L153.1,134.0L154.4,135.3L155.6,136.8L156.9,134.8L158.1,133.9L159.4,132.7L160.7,135.3L161.9,132.6L163.2,132.3L164.4,133.9L165.7,135.2L167.0,135.3L168.2,135.3L169.5,127.7L170.8,116.7L172.0,127.7L173.3,135.7L174.5,134.8L175.8,138.3L177.1,147.0L178.3,138.3L179.6,131.8L180.9,134.5L182.1,136.9L183.4,138.8L184.6,143.3L185.9,134.7L187.2,133.5L188.4,134.0L189.7,134.7L191.0,133.8L192.2,134.6L193.5,142.0L194.7,130.1L196.0,132.8L197.3,132.6L198.5,134.1L199.8,135.8L201.1,136.2L202.3,135.8L203.6,132.9L204.8,126.9L206.1,126.4L207.4,131.8L208.6,133.5L209.9,135.0L211.1,134.6L212.4,130.5L213.7,123.2L214.9,127.8L216.2,135.1L217.5,134.6L218.7,133.0L220.0,133.9L221.2,133.8L222.5,132.4L223.8,133.0L225.0,133.3L226.3,132.8L227.6,136.3L228.8,136.2L230.1,136.9L231.3,123.2L232.6,129.5L233.9,136.3L235.1,135.1L236.4,134.4L237.7,134.2L238.9,130.8L240.2,129.2L241.4,133.0L242.7,136.5L244.0,134.6L245.2,132.9L246.5,134.0L247.7,129.7L249.0,114.8L250.3,128.6L251.5,136.1L252.8,135.6L254.1,131.9L255.3,129.4L256.6,136.1L257.8,148.4L259.1,139.3L260.4,131.5L261.6,131.5L262.9,131.6L264.2,131.2L265.4,133.2L266.7,133.5L267.9,132.8L269.2,131.2L270.5,134.6L271.7,137.8L273.0,145.6L274.3,137.8L275.5,138.8L276.8,135.8L278.0,142.2L279.3,138.6L280.6,135.5L281.8,131.4L283.1,129.4L284.4,132.0L285.6,129.5L286.9,123.2L288.1,131.0L289.4,134.6L290.7,139.5L291.9,137.0L293.2,133.9L294.4,133.5L295.7,135.0L297.0,133.7L298.2,133.6L299.5,132.2L300.8,133.2L302.0,134.4L303.3,134.0L304.5,133.7L305.8,136.7L307.1,141.9L308.3,132.2L309.6,120.2L310.9,115.9L312.1,130.4L313.4,129.8L314.6,131.2L315.9,129.9L317.2,140.9L318.4,134.7L319.7,143.4L321.0,131.9L322.2,133.1L323.5,140.6L324.7,149.4L326.0,138.1L327.3,135.7L328.5,135.2L329.8,132.6L331.0,133.3L332.3,138.0L333.6,136.4L334.8,132.6L336.1,134.7L337.4,128.8L338.6,129.8L339.9,130.7L341.1,129.0L342.4,132.9L343.7,139.3L344.9,138.4L346.2,139.2L347.5,132.9L348.7,130.4L350.0,134.7L351.2,125.2L352.5,122.5L353.8,123.6L355.0,131.3L356.3,135.1L357.6,145.1L358.8,138.1L360.1,138.9L361.3,141.8L362.6,130.0L363.9,146.9L365.1,129.4L366.4,133.6L367.7,137.9L368.9,129.9L370.2,135.5L371.4,142.9L372.7,139.7L374.0,135.6L375.2,128.5L376.5,122.8L377.7,132.0L379.0,141.2L380.3,125.9L381.5,116.9L382.8,120.5L384.1,144.5L385.3,147.2L386.6,153.2L387.8,139.5L389.1,134.4L390.4,134.3L391.6,138.3L392.9,139.5L394.2,148.9L395.4,137.8L396.7,130.2L397.9,125.6L399.2,127.5L400.5,135.6L401.7,137.3L403.0,132.4L404.3,135.9L405.5,134.6L406.8,129.3L408.0,130.5L409.3,131.4L410.6,133.2L411.8,131.3L413.1,127.3L414.3,134.3L415.6,136.3L416.9,136.5L418.1,132.7L419.4,130.5L420.7,135.0L421.9,134.9L423.2,128.5L424.4,126.8L425.7,132.4L427.0,147.8L428.2,134.7L429.5,134.1L430.8,133.5L432.0,127.9L433.3,135.4L434.5,133.5L435.8,127.3L437.1,130.8L438.3,136.4L439.6,133.9L440.9,138.1L442.1,140.8L443.4,130.6L444.6,137.3L445.9,137.4L447.2,134.1L448.4,138.1L449.7,139.7L451.0,134.3L452.2,132.1L453.5,139.1L454.7,136.4L456.0,134.4L457.3,144.6L458.5,141.1L459.8,130.0L461.0,128.0L462.3,137.5L463.6,140.2L464.8,138.2L466.1,146.6L467.4,138.2L468.6,135.2L469.9,131.1L471.1,139.7L472.4,144.2L473.7,138.1L474.9,125.2L476.2,129.8L477.5,139.7L478.7,135.4L480.0,133.7L481.2,133.6L482.5,137.5L483.8,137.8L485.0,122.8L486.3,114.8L487.6,125.9L488.8,133.8" stroke="#3cbcf0" stroke-width="1.5" fill="none" stroke-linejoin="round"/><path d="M47.1,132.6L48.3,132.6L49.6,132.4L50.9,131.0L52.1,132.3L53.4,132.9L54.6,134.5L55.9,133.5L57.2,133.1L58.4,134.0L59.7,134.2L61.0,133.9L62.2,133.4L63.5,132.9L64.7,134.1L66.0,135.1L67.3,133.3L68.5,135.1L69.8,135.3L71.1,132.0L72.3,135.7L73.6,136.1L74.8,133.3L76.1,134.7L77.4,131.0L78.6,135.3L79.9,133.6L81.1,131.1L82.4,131.3L83.7,133.7L84.9,134.1L86.2,135.0L87.5,133.2L88.7,134.4L90.0,134.5L91.2,132.6L92.5,134.2L93.8,134.8L95.0,126.6L96.3,113.6L97.6,126.6L98.8,132.3L100.1,135.2L101.3,135.0L102.6,134.8L103.9,134.6L105.1,133.6L106.4,134.2L107.7,132.7L108.9,133.9L110.2,132.9L111.4,133.3L112.7,132.7L114.0,134.0L115.2,134.8L116.5,135.6L117.8,133.5L119.0,131.7L120.3,130.1L121.5,131.0L122.8,133.3L124.1,130.3L125.3,118.9L126.6,128.9L127.8,131.6L129.1,131.6L130.4,134.4L131.6,135.7L132.9,132.7L134.2,132.1L135.4,133.5L136.7,132.7L137.9,133.7L139.2,134.4L140.5,134.6L141.7,136.4L143.0,133.6L144.3,134.2L145.5,134.7L146.8,134.9L148.0,133.0L149.3,133.0L150.6,133.5L151.8,136.0L153.1,135.0L154.4,135.4L155.6,133.7L156.9,140.8L158.1,154.0L159.4,140.8L160.7,132.0L161.9,133.0L163.2,133.7L164.4,134.2L165.7,132.7L167.0,131.6L168.2,134.6L169.5,134.0L170.8,134.9L172.0,135.5L173.3,133.6L174.5,135.3L175.8,136.4L177.1,132.1L178.3,131.6L179.6,135.0L180.9,138.9L182.1,148.4L183.4,140.2L184.6,137.5L185.9,136.8L187.2,133.5L188.4,132.5L189.7,133.5L191.0,133.6L192.2,133.0L193.5,136.0L194.7,135.5L196.0,134.8L197.3,136.9L198.5,140.6L199.8,135.6L201.1,133.7L202.3,135.5L203.6,135.2L204.8,131.2L206.1,133.2L207.4,132.1L208.6,120.2L209.9,128.1L211.1,132.1L212.4,134.7L213.7,133.5L214.9,133.2L216.2,132.1L217.5,134.1L218.7,133.9L220.0,132.4L221.2,132.2L222.5,133.4L223.8,132.9L225.0,133.3L226.3,132.6L227.6,135.1L228.8,136.7L230.1,133.7L231.3,134.4L232.6,134.4L233.9,133.9L235.1,134.2L236.4,134.4L237.7,132.1L238.9,135.8L240.2,134.2L241.4,130.3L242.7,129.5L244.0,126.5L245.2,131.4L246.5,131.2L247.7,134.0L249.0,132.4L250.3,127.1L251.5,130.8L252.8,132.9L254.1,132.7L255.3,134.0L256.6,134.1L257.8,134.6L259.1,134.8L260.4,134.1L261.6,133.6L262.9,135.0L264.2,132.4L265.4,132.7L266.7,135.4L267.9,134.2L269.2,136.0L270.5,133.8L271.7,133.4L273.0,133.4L274.3,133.4L275.5,134.4L276.8,137.8L278.0,145.6L279.3,137.8L280.6,135.2L281.8,133.4L283.1,134.3L284.4,135.8L285.6,131.8L286.9,132.4L288.1,131.1L289.4,132.2L290.7,133.8L291.9,133.7L293.2,132.8L294.4,131.8L295.7,132.5L297.0,126.3L298.2,112.6L299.5,126.3L300.8,131.8L302.0,134.6L303.3,135.6L304.5,133.9L305.8,133.9L307.1,133.8L308.3,133.8L309.6,134.2L310.9,133.1L312.1,130.0L313.4,132.5L314.6,134.1L315.9,134.6L317.2,136.5L318.4,135.0L319.7,128.1L321.0,129.8L322.2,132.4L323.5,134.7L324.7,133.9L326.0,133.2L327.3,135.5L328.5,133.8L329.8,136.2L331.0,131.2L332.3,131.5L333.6,133.7L334.8,138.2L336.1,134.0L337.4,135.0L338.6,133.9L339.9,136.1L341.1,137.4L342.4,134.6L343.7,135.8L344.9,133.0L346.2,132.8L347.5,132.7L348.7,135.9L350.0,135.2L351.2,132.7L352.5,131.6L353.8,135.1L355.0,137.6L356.3,137.2L357.6,135.4L358.8,133.8L360.1,132.8L361.3,132.2L362.6,130.9L363.9,130.1L365.1,136.6L366.4,134.6L367.7,132.3L368.9,133.9L370.2,135.6L371.4,139.9L372.7,139.8L374.0,134.7L375.2,136.3L376.5,135.5L377.7,137.9L379.0,132.9L380.3,133.3L381.5,133.3L382.8,135.4L384.1,135.9L385.3,134.0L386.6,132.6L387.8,133.1L389.1,132.5L390.4,132.0L391.6,132.9L392.9,133.8L394.2,134.4L395.4,132.8L396.7,130.5L397.9,132.5L399.2,133.3L400.5,134.2L401.7,135.8L403.0,135.8L404.3,133.0L405.5,132.0L406.8,131.1L408.0,132.9L409.3,133.1L410.6,132.0L411.8,131.8L413.1,136.5L414.3,142.7L415.6,136.3L416.9,129.7L418.1,122.2L419.4,129.7L420.7,133.5L421.9,131.7L423.2,133.1L424.4,134.4L425.7,134.5L427.0,134.7L428.2,134.2L429.5,135.8L430.8,132.2L432.0,132.0L433.3,133.0L434.5,134.2L435.8,136.0L437.1,134.7L438.3,134.5L439.6,132.5L440.9,132.8L442.1,131.6L443.4,132.0L444.6,132.5L445.9,133.4L447.2,133.7L448.4,133.0L449.7,128.9L451.0,119.9L452.2,128.9L453.5,130.3L454.7,132.1L456.0,134.4L457.3,135.5L458.5,136.2L459.8,132.7L461.0,132.2L462.3,132.9L463.6,131.5L464.8,129.7L466.1,133.6L467.4,133.7L468.6,132.9L469.9,132.8L471.1,132.9L472.4,133.6L473.7,131.9L474.9,132.0L476.2,133.1L477.5,132.4L478.7,132.1L480.0,132.8L481.2,133.4L482.5,135.4L483.8,138.7L485.0,135.4L486.3,135.4L487.6,134.9L488.8,135.0" stroke="#b8203f" stroke-width="1.5" fill="none" stroke-linejoin="round"/><path d="M47.1,132.5L48.3,134.0L49.6,133.8L50.9,135.3L52.1,133.2L53.4,132.9L54.6,132.9L55.9,134.6L57.2,133.6L58.4,130.0L59.7,140.3L61.0,152.6L62.2,140.3L63.5,133.1L64.7,133.2L66.0,137.4L67.3,134.1L68.5,132.9L69.8,133.1L71.1,130.4L72.3,123.5L73.6,131.4L74.8,131.0L76.1,125.7L77.4,131.8L78.6,136.8L79.9,140.7L81.1,136.2L82.4,131.2L83.7,131.4L84.9,131.0L86.2,132.0L87.5,130.6L88.7,134.6L90.0,133.0L91.2,133.5L92.5,131.8L93.8,133.5L95.0,136.0L96.3,132.6L97.6,131.1L98.8,129.9L100.1,130.7L101.3,133.0L102.6,134.8L103.9,135.1L105.1,134.2L106.4,134.5L107.7,134.2L108.9,137.1L110.2,134.5L111.4,132.8L112.7,129.5L114.0,131.4L115.2,135.0L116.5,134.2L117.8,136.5L119.0,139.7L120.3,137.6L121.5,132.4L122.8,131.9L124.1,135.1L125.3,135.1L126.6,132.4L127.8,132.0L129.1,133.0L130.4,135.2L131.6,135.4L132.9,133.6L134.2,131.8L135.4,134.1L136.7,136.1L137.9,133.4L139.2,135.8L140.5,132.4L141.7,130.6L143.0,131.9L144.3,131.2L145.5,132.2L146.8,133.0L148.0,135.2L149.3,135.5L150.6,129.3L151.8,118.7L153.1,127.3L154.4,130.6L155.6,133.1L156.9,134.3L158.1,132.7L159.4,132.3L160.7,131.2L161.9,134.6L163.2,132.9L164.4,138.6L165.7,148.2L167.0,139.8L168.2,132.9L169.5,134.2L170.8,133.0L172.0,135.4L173.3,135.2L174.5,132.0L175.8,133.6L177.1,134.2L178.3,134.5L179.6,137.0L180.9,136.8L182.1,127.5L183.4,115.9L184.6,127.5L185.9,134.5L187.2,139.6L188.4,148.0L189.7,138.3L191.0,130.6L192.2,134.5L193.5,134.1L194.7,132.2L196.0,140.0L197.3,151.8L198.5,140.0L199.8,133.0L201.1,132.9L202.3,134.3L203.6,139.8L204.8,133.5L206.1,136.8L207.4,134.3L208.6,133.6L209.9,133.0L211.1,133.1L212.4,135.6L213.7,132.2L214.9,130.9L216.2,131.1L217.5,132.6L218.7,134.7L220.0,134.4L221.2,133.8L222.5,135.0L223.8,133.5L225.0,132.8L226.3,132.9L227.6,134.4L228.8,132.4L230.1,132.7L231.3,137.5L232.6,136.3L233.9,135.0L235.1,136.8L236.4,134.4L237.7,134.9L238.9,141.5L240.2,135.0L241.4,133.5L242.7,134.7L244.0,135.1L245.2,133.1L246.5,137.5L247.7,148.9L249.0,137.6L250.3,137.5L251.5,145.7L252.8,139.1L254.1,139.7L255.3,134.2L256.6,134.4L257.8,134.8L259.1,132.1L260.4,119.8L261.6,128.1L262.9,131.7L264.2,137.7L265.4,149.3L266.7,136.4L267.9,128.8L269.2,122.8L270.5,131.0L271.7,129.8L273.0,121.6L274.3,132.4L275.5,133.3L276.8,133.5L278.0,134.4L279.3,131.6L280.6,131.4L281.8,134.0L283.1,137.2L284.4,134.6L285.6,132.0L286.9,133.4L288.1,137.7L289.4,136.4L290.7,135.5L291.9,133.3L293.2,131.8L294.4,131.7L295.7,134.6L297.0,134.4L298.2,139.2L299.5,149.5L300.8,139.2L302.0,130.9L303.3,132.2L304.5,132.9L305.8,134.5L307.1,134.2L308.3,135.9L309.6,134.4L310.9,131.5L312.1,123.9L313.4,129.4L314.6,134.3L315.9,137.6L317.2,139.3L318.4,140.7L319.7,146.6L321.0,138.9L322.2,134.6L323.5,126.7L324.7,134.3L326.0,139.7L327.3,138.1L328.5,130.4L329.8,135.5L331.0,135.5L332.3,136.3L333.6,133.8L334.8,134.2L336.1,137.0L337.4,128.9L338.6,128.0L339.9,129.3L341.1,126.9L342.4,135.5L343.7,135.3L344.9,139.8L346.2,134.3L347.5,131.6L348.7,135.5L350.0,139.3L351.2,133.9L352.5,137.6L353.8,137.7L355.0,139.7L356.3,139.3L357.6,136.3L358.8,134.2L360.1,132.6L361.3,128.3L362.6,130.3L363.9,131.5L365.1,140.3L366.4,143.5L367.7,136.6L368.9,133.2L370.2,137.5L371.4,144.8L372.7,137.4L374.0,136.8L375.2,136.9L376.5,133.5L377.7,138.4L379.0,137.0L380.3,133.4L381.5,137.1L382.8,132.3L384.1,128.0L385.3,130.1L386.6,137.4L387.8,136.4L389.1,130.7L390.4,130.4L391.6,133.5L392.9,134.6L394.2,136.2L395.4,132.3L396.7,137.1L397.9,138.5L399.2,132.2L400.5,133.9L401.7,122.8L403.0,122.0L404.3,131.2L405.5,136.3L406.8,135.0L408.0,133.7L409.3,133.8L410.6,132.8L411.8,126.9L413.1,131.0L414.3,138.1L415.6,131.0L416.9,124.9L418.1,128.7L419.4,129.9L420.7,137.4L421.9,133.3L423.2,127.6L424.4,133.5L425.7,133.9L427.0,143.6L428.2,140.0L429.5,130.2L430.8,135.0L432.0,145.7L433.3,136.9L434.5,132.5L435.8,127.4L437.1,139.3L438.3,137.9L439.6,127.9L440.9,134.0L442.1,136.0L443.4,128.5L444.6,128.6L445.9,132.2L447.2,140.6L448.4,136.8L449.7,129.9L451.0,129.7L452.2,132.8L453.5,124.6L454.7,128.8L456.0,136.4L457.3,136.0L458.5,137.8L459.8,136.6L461.0,139.5L462.3,134.3L463.6,135.9L464.8,134.4L466.1,118.8L467.4,135.3L468.6,137.3L469.9,131.4L471.1,128.7L472.4,135.3L473.7,135.4L474.9,131.6L476.2,133.0L477.5,133.1L478.7,133.5L480.0,138.3L481.2,140.4L482.5,132.2L483.8,131.1L485.0,130.6L486.3,133.1L487.6,132.7L488.8,132.3" stroke="#1f6fc0" stroke-width="1.5" fill="none" stroke-linejoin="round"/><path d="M47.1,136.0L48.3,131.6L49.6,128.5L50.9,131.6L52.1,133.5L53.4,139.5L54.6,134.2L55.9,130.4L57.2,132.6L58.4,133.9L59.7,134.9L61.0,128.9L62.2,129.3L63.5,135.8L64.7,138.1L66.0,127.4L67.3,133.8L68.5,132.8L69.8,128.5L71.1,135.9L72.3,132.2L73.6,132.9L74.8,132.0L76.1,132.9L77.4,129.1L78.6,132.5L79.9,135.5L81.1,131.2L82.4,133.9L83.7,135.8L84.9,127.5L86.2,135.4L87.5,139.3L88.7,139.3L90.0,137.3L91.2,139.9L92.5,130.3L93.8,133.6L95.0,135.9L96.3,134.6L97.6,135.5L98.8,136.4L100.1,132.7L101.3,126.2L102.6,132.1L103.9,134.5L105.1,137.9L106.4,131.4L107.7,134.7L108.9,131.7L110.2,133.9L111.4,134.4L112.7,134.0L114.0,135.2L115.2,137.9L116.5,131.7L117.8,136.1L119.0,137.8L120.3,133.8L121.5,134.3L122.8,133.1L124.1,130.8L125.3,133.4L126.6,134.3L127.8,133.9L129.1,131.2L130.4,138.9L131.6,133.7L132.9,134.6L134.2,137.2L135.4,133.5L136.7,133.6L137.9,132.3L139.2,130.8L140.5,140.8L141.7,135.1L143.0,125.8L144.3,130.9L145.5,132.6L146.8,135.2L148.0,140.1L149.3,136.6L150.6,130.0L151.8,130.1L153.1,137.1L154.4,135.9L155.6,131.9L156.9,137.9L158.1,135.5L159.4,132.3L160.7,142.0L161.9,140.7L163.2,128.2L164.4,124.6L165.7,136.4L167.0,147.5L168.2,132.3L169.5,132.7L170.8,128.7L172.0,133.3L173.3,135.1L174.5,139.0L175.8,129.2L177.1,132.9L178.3,135.9L179.6,140.2L180.9,130.5L182.1,128.7L183.4,136.7L184.6,135.4L185.9,131.7L187.2,135.1L188.4,151.6L189.7,141.4L191.0,136.3L192.2,136.8L193.5,134.9L194.7,139.8L196.0,135.6L197.3,128.9L198.5,132.4L199.8,137.8L201.1,133.3L202.3,137.9L203.6,134.7L204.8,130.8L206.1,131.5L207.4,138.7L208.6,137.8L209.9,129.2L211.1,135.6L212.4,134.0L213.7,137.5L214.9,139.1L216.2,130.8L217.5,131.7L218.7,134.3L220.0,136.1L221.2,134.4L222.5,129.5L223.8,124.8L225.0,134.3L226.3,140.2L227.6,129.6L228.8,129.8L230.1,133.4L231.3,134.7L232.6,127.5L233.9,133.2L235.1,134.6L236.4,139.1L237.7,135.1L238.9,133.8L240.2,133.4L241.4,132.8L242.7,136.0L244.0,129.3L245.2,135.9L246.5,136.6L247.7,132.3L249.0,136.2L250.3,134.6L251.5,137.5L252.8,136.9L254.1,129.4L255.3,133.1L256.6,133.9L257.8,134.5L259.1,137.5L260.4,134.5L261.6,133.1L262.9,136.8L264.2,138.5L265.4,142.0L266.7,137.6L267.9,136.6L269.2,128.7L270.5,134.3L271.7,137.0L273.0,136.6L274.3,130.1L275.5,133.9L276.8,134.5L278.0,139.4L279.3,130.3L280.6,130.7L281.8,133.5L283.1,131.5L284.4,134.4L285.6,135.1L286.9,131.6L288.1,132.1L289.4,135.3L290.7,134.2L291.9,134.6L293.2,131.6L294.4,130.9L295.7,129.8L297.0,129.7L298.2,133.1L299.5,135.9L300.8,129.7L302.0,130.2L303.3,139.3L304.5,129.8L305.8,129.9L307.1,138.5L308.3,133.0L309.6,134.9L310.9,137.8L312.1,134.3L313.4,135.1L314.6,135.8L315.9,137.0L317.2,150.1L318.4,142.4L319.7,133.7L321.0,133.7L322.2,133.7L323.5,133.7L324.7,133.7L326.0,133.7L327.3,133.3L328.5,133.5L329.8,133.8L331.0,133.4L332.3,133.6L333.6,133.5L334.8,133.6L336.1,133.9L337.4,133.4L338.6,133.6L339.9,133.9L341.1,133.9L342.4,133.4L343.7,133.8L344.9,133.7L346.2,133.5L347.5,133.6L348.7,134.0L350.0,133.5L351.2,133.5L352.5,133.5L353.8,133.3L355.0,133.6L356.3,133.5L357.6,133.3L358.8,133.7L360.1,133.3L361.3,133.3L362.6,133.5L363.9,133.2L365.1,133.5L366.4,133.9L367.7,133.4L368.9,133.6L370.2,133.6L371.4,133.6L372.7,133.4L374.0,133.5L375.2,133.8L376.5,133.6L377.7,133.5L379.0,133.8L380.3,133.8L381.5,133.8L382.8,133.8L384.1,133.6L385.3,133.4L386.6,133.2L387.8,133.4L389.1,133.4L390.4,133.4L391.6,133.4L392.9,133.8L394.2,133.5L395.4,133.6L396.7,133.7L397.9,133.8L399.2,133.8L400.5,133.7L401.7,134.0L403.0,133.6L404.3,133.7L405.5,133.7L406.8,133.6L408.0,133.5L409.3,133.8L410.6,133.7L411.8,134.1L413.1,134.2L414.3,134.1L415.6,133.3L416.9,134.1L418.1,133.6L419.4,133.3L420.7,133.8L421.9,133.3L423.2,133.2L424.4,133.5L425.7,133.1L427.0,133.5L428.2,133.8L429.5,133.6L430.8,133.8L432.0,134.0L433.3,134.0L434.5,133.1L435.8,133.8L437.1,133.7L438.3,133.8L439.6,133.6L440.9,133.7L442.1,133.8L443.4,134.0L444.6,134.0L445.9,133.8L447.2,133.6L448.4,133.2L449.7,133.4L451.0,133.2L452.2,133.6L453.5,133.7L454.7,134.0L456.0,133.7L457.3,134.2L458.5,133.7L459.8,133.3L461.0,133.6L462.3,133.4L463.6,133.8L464.8,134.0L466.1,133.8L467.4,133.8L468.6,133.4L469.9,133.2L471.1,133.8L472.4,133.8L473.7,133.7L474.9,133.8L476.2,134.0L477.5,133.6L478.7,133.6L480.0,133.6L481.2,134.0L482.5,133.7L483.8,134.1L485.0,133.5L486.3,133.9L487.6,133.7L488.8,133.8" stroke="#f0501c" stroke-width="1.5" fill="none" stroke-linejoin="round"/></g>
<rect x="361.5" y="166.5" width="168" height="90" fill="#fff"/>
<rect x="284.5" y="104" width="68.5" height="49.5" fill="none" stroke="#444" stroke-width="1.4" stroke-dasharray="2.6 1.55"/>
<path d="M34.45,8.0V259.35H539.3V8.0" fill="none" stroke="#c4c4c4" stroke-width="1"/>
<path d="M33.95,7.9H539.8" fill="none" stroke="#ababab" stroke-width="1"/>
<path d="M34.45,259.35V254.35000000000002M34.45,8.0V13.0M97.56,259.35V254.35000000000002M97.56,8.0V13.0M160.66,259.35V254.35000000000002M160.66,8.0V13.0M223.77,259.35V254.35000000000002M223.77,8.0V13.0M286.88,259.35V254.35000000000002M286.88,8.0V13.0M349.98,259.35V254.35000000000002M349.98,8.0V13.0M413.09,259.35V254.35000000000002M413.09,8.0V13.0M476.19,259.35V254.35000000000002M476.19,8.0V13.0M539.30,259.35V254.35000000000002M539.30,8.0V13.0M34.45,259.35H39.45M539.3,259.35H534.3M34.45,227.93H39.45M539.3,227.93H534.3M34.45,196.51H39.45M539.3,196.51H534.3M34.45,165.09H39.45M539.3,165.09H534.3M34.45,133.68H39.45M539.3,133.68H534.3M34.45,102.26H39.45M539.3,102.26H534.3M34.45,70.84H39.45M539.3,70.84H534.3M34.45,39.42H39.45M539.3,39.42H534.3M34.45,8.00H39.45M539.3,8.00H534.3" stroke="#bdbdbd" stroke-width="0.8" fill="none"/>
<rect x="375.5" y="173.5" width="148.0" height="73.5" fill="#fff"/>
<g clip-path="url(#iclip)"><path d="M369.9,205.7L372.7,205.6L375.5,205.0L378.3,204.9L381.1,204.8L383.9,205.3L386.7,205.6L389.5,206.4L392.3,205.2L395.1,205.1L397.9,205.7L400.7,205.1L403.5,204.8L406.3,205.5L409.1,205.0L411.9,205.3L414.7,206.4L417.5,205.7L420.3,205.7L423.1,205.2L425.9,206.0L428.7,205.7L431.5,206.0L434.3,205.5L437.1,205.5L439.9,205.0L442.7,205.1L445.5,205.4L448.3,205.4L451.1,205.4L453.9,205.4L456.7,204.7L459.5,206.8L462.3,205.6L465.1,205.3L467.9,204.9L470.7,206.1L473.5,205.3L476.3,205.1L479.1,205.7L481.9,206.5L484.7,205.7L487.5,206.1L490.3,205.2L493.1,205.9L495.9,204.6L498.7,205.4L501.5,205.9L504.3,205.8L507.1,206.1L509.9,205.3L512.7,204.7L515.5,205.6L518.3,205.0L521.1,206.0L523.9,205.3L526.7,204.3L529.5,206.2" stroke="#ff5050" stroke-width="0.5" stroke-opacity="0.6" fill="none"/><path d="M369.9,174.3L372.7,244.3L375.5,206.0L378.3,173.4L381.1,268.4L383.9,286.2L386.7,195.6L389.5,203.8L392.3,214.9L395.1,204.1L397.9,238.4L400.7,263.4L403.5,211.9L406.3,242.7L409.1,268.4L411.9,186.2L414.7,207.9L417.5,190.0L420.3,243.4L423.1,230.7L425.9,243.7L428.7,239.4L431.5,198.1L434.3,235.5L437.1,191.9L439.9,192.6L442.7,128.1L445.5,258.8L448.3,171.6L451.1,209.0L453.9,206.1L456.7,261.0L459.5,223.1L462.3,177.1L465.1,208.7L467.9,202.4L470.7,216.7L473.5,161.4L476.3,206.4L479.1,289.7L481.9,232.0L484.7,280.8L487.5,292.4L490.3,225.8L493.1,154.6L495.9,203.7L498.7,250.4L501.5,241.5L504.3,162.3L507.1,199.5L509.9,203.7L512.7,207.6L515.5,204.1L518.3,174.8L521.1,184.4L523.9,197.3L526.7,245.4L529.5,186.0" stroke="#1a8fd6" stroke-opacity="0.4" stroke-width="0.55" fill="none"/><path d="M369.9,190.9L372.7,230.5L375.5,215.5L378.3,181.2L381.1,189.1L383.9,197.6L386.7,263.4L389.5,185.0L392.3,160.8L395.1,166.9L397.9,196.6L400.7,265.1L403.5,169.5L406.3,211.2L409.1,292.4L411.9,191.1L414.7,262.6L417.5,255.1L420.3,229.8L423.1,156.9L425.9,219.7L428.7,195.2L431.5,138.7L434.3,144.6L437.1,209.5L439.9,214.8L442.7,253.7L445.5,232.1L448.3,189.3L451.1,190.4L453.9,201.3L456.7,167.5L459.5,235.1L462.3,207.7L465.1,177.6L467.9,183.2L470.7,164.6L473.5,190.4L476.3,217.4L479.1,191.7L481.9,243.9L484.7,268.2L487.5,183.3L490.3,207.6L493.1,193.8L495.9,270.4L498.7,219.5L501.5,228.5L504.3,238.6L507.1,291.7L509.9,218.3L512.7,171.2L515.5,191.0L518.3,228.5L521.1,206.1L523.9,176.6L526.7,292.4L529.5,210.3" stroke="#e0603a" stroke-opacity="0.4" stroke-width="0.55" fill="none"/><path d="M369.9,207.4L372.7,151.7L375.5,198.4L378.3,231.3L381.1,194.9L383.9,177.4L386.7,204.2L389.5,186.9L392.3,225.5L395.1,287.1L397.9,171.1L400.7,178.8L403.5,199.9L406.3,202.9L409.1,165.9L411.9,223.0L414.7,232.5L417.5,212.7L420.3,160.1L423.1,258.6L425.9,160.0L428.7,230.0L431.5,247.6L434.3,157.4L437.1,209.2L439.9,255.2L442.7,219.3L445.5,169.9L448.3,160.0L451.1,221.9L453.9,190.0L456.7,178.2L459.5,230.2L462.3,192.0L465.1,206.8L467.9,226.0L470.7,224.4L473.5,203.0L476.3,204.4L479.1,227.2L481.9,221.8L484.7,163.0L487.5,197.4L490.3,171.7L493.1,159.6L495.9,183.0L498.7,118.7L501.5,237.1L504.3,174.6L507.1,217.7L509.9,134.6L512.7,140.5L515.5,280.2L518.3,242.6L521.1,180.1L523.9,175.3L526.7,177.4L529.5,208.3" stroke="#e8b030" stroke-opacity="0.4" stroke-width="0.55" fill="none"/><path d="M369.9,189.3L372.7,232.5L375.5,175.3L378.3,224.2L381.1,240.8L383.9,198.7L386.7,176.1L389.5,229.8L392.3,192.9L395.1,209.1L397.9,118.7L400.7,232.6L403.5,152.6L406.3,207.5L409.1,210.4L411.9,178.0L414.7,171.4L417.5,157.1L420.3,193.0L423.1,228.5L425.9,226.1L428.7,186.1L431.5,183.3L434.3,152.1L437.1,189.5L439.9,165.0L442.7,147.6L445.5,199.2L448.3,262.3L451.1,250.6L453.9,260.5L456.7,144.7L459.5,237.9L462.3,158.5L465.1,183.2L467.9,140.0L470.7,167.2L473.5,209.5L476.3,213.2L479.1,202.3L481.9,198.8L484.7,225.8L487.5,206.8L490.3,144.0L493.1,270.6L495.9,195.7L498.7,240.2L501.5,198.4L504.3,173.4L507.1,207.7L509.9,176.0L512.7,266.3L515.5,163.2L518.3,228.6L521.1,181.7L523.9,198.6L526.7,292.4L529.5,234.4" stroke="#c058c0" stroke-opacity="0.4" stroke-width="0.55" fill="none"/><path d="M369.9,220.6L372.7,217.2L375.5,196.8L378.3,164.3L381.1,292.1L383.9,238.1L386.7,245.1L389.5,248.1L392.3,239.1L395.1,238.5L397.9,193.7L400.7,240.4L403.5,200.7L406.3,189.8L409.1,234.1L411.9,200.4L414.7,141.4L417.5,192.9L420.3,230.5L423.1,208.1L425.9,241.4L428.7,194.9L431.5,171.8L434.3,237.6L437.1,213.7L439.9,162.1L442.7,225.0L445.5,198.2L448.3,245.5L451.1,237.5L453.9,225.6L456.7,122.3L459.5,221.2L462.3,225.8L465.1,227.1L467.9,211.9L470.7,180.5L473.5,198.3L476.3,126.9L479.1,197.4L481.9,150.2L484.7,195.0L487.5,182.4L490.3,260.7L493.1,210.4L495.9,208.2L498.7,214.8L501.5,287.8L504.3,171.9L507.1,220.3L509.9,222.3L512.7,215.3L515.5,214.3L518.3,190.0L521.1,254.1L523.9,241.1L526.7,194.4L529.5,200.0" stroke="#80b040" stroke-opacity="0.4" stroke-width="0.55" fill="none"/><path d="M369.9,175.7L372.7,166.2L375.5,198.3L378.3,197.1L381.1,200.2L383.9,197.1L386.7,221.5L389.5,207.8L392.3,227.0L395.1,201.5L397.9,204.2L400.7,220.8L403.5,240.3L406.3,215.4L409.1,210.1L411.9,209.0L414.7,203.1L417.5,204.6L420.3,215.1L423.1,211.6L425.9,203.2L428.7,207.7L431.5,194.8L434.3,197.0L437.1,199.0L439.9,195.3L442.7,203.9L445.5,218.1L448.3,216.1L451.1,217.8L453.9,203.9L456.7,198.3L459.5,207.8L462.3,186.8L465.1,180.9L467.9,183.3L470.7,200.3L473.5,208.8L476.3,230.8L479.1,215.3L481.9,217.1L484.7,223.5L487.5,197.5L490.3,234.7L493.1,196.2L495.9,205.3L498.7,214.9L501.5,197.2L504.3,209.6L507.1,226.0L509.9,218.8L512.7,209.8L515.5,194.0L518.3,181.4L521.1,201.7L523.9,222.1L526.7,188.4L529.5,168.4" stroke="#3cbcf0" stroke-width="0.75" stroke-opacity="0.8" fill="none"/><path d="M369.9,206.6L372.7,204.2L375.5,197.5L378.3,202.9L381.1,206.5L383.9,207.5L386.7,211.7L389.5,208.4L392.3,193.1L395.1,197.0L397.9,202.7L400.7,207.8L403.5,206.0L406.3,204.4L409.1,209.7L411.9,205.9L414.7,211.1L417.5,200.1L420.3,200.7L423.1,205.5L425.9,215.5L428.7,206.2L431.5,208.6L434.3,205.9L437.1,211.0L439.9,213.8L442.7,207.5L445.5,210.3L448.3,204.1L451.1,203.7L453.9,203.5L456.7,210.5L459.5,209.0L462.3,203.3L465.1,200.9L467.9,208.8L470.7,214.3L473.5,213.3L476.3,209.3L479.1,205.9L481.9,203.6L484.7,202.3L487.5,199.5L490.3,197.7L493.1,212.1L495.9,207.5L498.7,202.5L501.5,206.1L504.3,209.8L507.1,219.3L509.9,219.0L512.7,207.9L515.5,211.3L518.3,209.6L521.1,214.8L523.9,203.9L526.7,204.7L529.5,204.8" stroke="#b8203f" stroke-width="0.75" stroke-opacity="0.75" fill="none"/><path d="M369.9,207.0L372.7,200.7L375.5,183.9L378.3,196.1L381.1,207.0L383.9,214.3L386.7,218.1L389.5,221.0L392.3,234.1L395.1,217.0L397.9,207.7L400.7,190.0L403.5,206.9L406.3,218.9L409.1,215.4L411.9,198.4L414.7,209.5L417.5,209.6L420.3,211.2L423.1,205.8L425.9,206.7L428.7,212.9L431.5,195.0L434.3,193.0L437.1,195.9L439.9,190.6L442.7,209.7L445.5,209.2L448.3,219.2L451.1,207.0L453.9,201.0L456.7,209.7L459.5,217.9L462.3,206.0L465.1,214.2L467.9,214.5L470.7,218.9L473.5,217.9L476.3,211.2L479.1,206.8L481.9,203.1L484.7,193.6L487.5,198.1L490.3,200.8L493.1,220.2L495.9,227.4L498.7,212.0L501.5,204.6L504.3,214.1L507.1,230.2L509.9,213.8L512.7,212.4L515.5,212.7L518.3,205.1L521.1,215.9L523.9,212.9L526.7,204.9L529.5,213.2" stroke="#1f6fc0" stroke-width="0.75" stroke-opacity="0.8" fill="none"/><path d="M369.9,208.2L372.7,214.6L375.5,206.9L378.3,208.6L381.1,210.2L383.9,212.8L386.7,241.9L389.5,224.9L392.3,205.5L395.1,205.5L397.9,205.5L400.7,205.5L403.5,205.5L406.3,205.5L409.1,204.7L411.9,205.2L414.7,205.7L417.5,204.9L420.3,205.5L423.1,205.2L425.9,205.4L428.7,206.1L431.5,205.0L434.3,205.5L437.1,206.1L439.9,205.9L442.7,205.0L445.5,205.7L448.3,205.5L451.1,205.2L453.9,205.5L456.7,206.3L459.5,205.2L462.3,205.1L465.1,205.1L467.9,204.7L470.7,205.4L473.5,205.1L476.3,204.7L479.1,205.7L481.9,204.6L484.7,204.6L487.5,205.1L490.3,204.6L493.1,205.1L495.9,206.0L498.7,204.9L501.5,205.4L504.3,205.3L507.1,205.5L509.9,204.8L512.7,205.3L515.5,205.9L518.3,205.3L521.1,205.2L523.9,205.9L526.7,205.8L529.5,205.7" stroke="#f0501c" stroke-width="0.75" stroke-opacity="0.55" fill="none"/></g>
<rect x="375.5" y="173.5" width="148.0" height="73.5" fill="none" stroke="#c8c8c8" stroke-width="0.7"/>
<path d="M375.50,247.0V245.5M375.50,173.5V175.0M389.50,247.0V245.5M389.50,173.5V175.0M403.50,247.0V245.5M403.50,173.5V175.0M417.50,247.0V245.5M417.50,173.5V175.0M431.50,247.0V245.5M431.50,173.5V175.0M445.50,247.0V245.5M445.50,173.5V175.0M459.50,247.0V245.5M459.50,173.5V175.0M473.50,247.0V245.5M473.50,173.5V175.0M487.50,247.0V245.5M487.50,173.5V175.0M501.50,247.0V245.5M501.50,173.5V175.0M515.50,247.0V245.5M515.50,173.5V175.0M375.5,240.29H377.0M523.5,240.29H522.0M375.5,233.34H377.0M523.5,233.34H522.0M375.5,226.39H377.0M523.5,226.39H522.0M375.5,219.44H377.0M523.5,219.44H522.0M375.5,212.49H377.0M523.5,212.49H522.0M375.5,205.54H377.0M523.5,205.54H522.0M375.5,198.59H377.0M523.5,198.59H522.0M375.5,191.64H377.0M523.5,191.64H522.0M375.5,184.69H377.0M523.5,184.69H522.0M375.5,177.74H377.0M523.5,177.74H522.0" stroke="#999" stroke-width="0.4" fill="none"/>
<g font-size="3.2"><text class="sm" x="375.50" y="250.90" text-anchor="middle">897</text><text class="sm" x="389.50" y="250.90" text-anchor="middle">897.5</text><text class="sm" x="403.50" y="250.90" text-anchor="middle">898</text><text class="sm" x="417.50" y="250.90" text-anchor="middle">898.5</text><text class="sm" x="431.50" y="250.90" text-anchor="middle">899</text><text class="sm" x="445.50" y="250.90" text-anchor="middle">899.5</text><text class="sm" x="459.50" y="250.90" text-anchor="middle">900</text><text class="sm" x="473.50" y="250.90" text-anchor="middle">900.5</text><text class="sm" x="487.50" y="250.90" text-anchor="middle">901</text><text class="sm" x="501.50" y="250.90" text-anchor="middle">901.5</text><text class="sm" x="515.50" y="250.90" text-anchor="middle">902</text><text class="sm" x="374.30" y="244.19" text-anchor="end">190</text><text class="sm" x="374.30" y="237.24" text-anchor="end">192</text><text class="sm" x="374.30" y="230.29" text-anchor="end">194</text><text class="sm" x="374.30" y="223.34" text-anchor="end">196</text><text class="sm" x="374.30" y="216.39" text-anchor="end">198</text><text class="sm" x="374.30" y="209.44" text-anchor="end">200</text><text class="sm" x="374.30" y="202.49" text-anchor="end">202</text><text class="sm" x="374.30" y="195.54" text-anchor="end">204</text><text class="sm" x="374.30" y="188.59" text-anchor="end">206</text><text class="sm" x="374.30" y="181.64" text-anchor="end">208</text></g>
<text x="449.5" y="255.2" text-anchor="middle" font-size="3.3" class="sm">Time/s</text>
<text transform="translate(368.8,209.5) rotate(-90)" text-anchor="middle" font-size="3.3" class="sm">Height /m</text>

<path d="M336.5,142 C339.27,179.25 356.44,217.07 383.5,193.8" fill="none" stroke="#e8462e" stroke-width="1.35" stroke-dasharray="2.8 1.9"/>
<path d="M386.6,191.2 L381.0,192.4 L383.8,196.4 Z" fill="#e8462e"/>
<g font-size="11"><text x="34.45" y="272.1" text-anchor="middle">875</text><text x="97.56" y="272.1" text-anchor="middle">880</text><text x="160.66" y="272.1" text-anchor="middle">885</text><text x="223.77" y="272.1" text-anchor="middle">890</text><text x="286.88" y="272.1" text-anchor="middle">895</text><text x="349.98" y="272.1" text-anchor="middle">900</text><text x="413.09" y="272.1" text-anchor="middle">905</text><text x="476.19" y="272.1" text-anchor="middle">910</text><text x="539.30" y="272.1" text-anchor="middle">915</text><text x="31.5" y="262.95" text-anchor="end">120</text><text x="31.5" y="231.53" text-anchor="end">140</text><text x="31.5" y="200.11" text-anchor="end">160</text><text x="31.5" y="168.69" text-anchor="end">180</text><text x="31.5" y="137.28" text-anchor="end">200</text><text x="31.5" y="105.86" text-anchor="end">220</text><text x="31.5" y="74.44" text-anchor="end">240</text><text x="31.5" y="43.02" text-anchor="end">260</text><text x="31.5" y="11.60" text-anchor="end">280</text></g>
<text x="286.5" y="285.2" text-anchor="middle" font-size="11">Time/s</text>
<text transform="translate(11,134) rotate(-90)" text-anchor="middle" font-size="11">Height /m</text>
<rect x="467.5" y="18.5" width="63" height="83" fill="#fff"/>
<path d="M467.5,18.5V101.5" stroke="#c0c0c0" stroke-width="1"/><path d="M467.5,18.5H530.5" stroke="#e6e6e6" stroke-width="1"/>
<path d="M530.5,18.5V101.5M467.5,101.5H530.5" stroke="#cfcfcf" stroke-width="1"/>
<g font-size="7.3" text-rendering="geometricPrecision" style="stroke-width:0.32px"><line x1="469" y1="23.30" x2="482" y2="23.30" stroke="#f01818" stroke-opacity="1" stroke-width="1.3"/><text x="483.5" y="0" transform="translate(0,25.80) scale(1,0.96)">Target GPS</text><line x1="469" y1="31.52" x2="482" y2="31.52" stroke="#0072bd" stroke-opacity="0.3" stroke-width="0.7" stroke-dasharray="1 0.8"/><text x="483.5" y="0" transform="translate(0,34.02) scale(1,0.96)">Sensor-1</text><line x1="469" y1="39.74" x2="482" y2="39.74" stroke="#d95319" stroke-opacity="0.2" stroke-width="0.7" stroke-dasharray="1 0.8"/><text x="483.5" y="0" transform="translate(0,42.24) scale(1,0.96)">Sensor-2</text><line x1="469" y1="47.96" x2="482" y2="47.96" stroke="#edb120" stroke-opacity="0.25" stroke-width="0.7" stroke-dasharray="1 0.8"/><text x="483.5" y="0" transform="translate(0,50.46) scale(1,0.96)">Sensor-3</text><line x1="469" y1="56.18" x2="482" y2="56.18" stroke="#7e2f8e" stroke-opacity="0.2" stroke-width="0.7" stroke-dasharray="1 0.8"/><text x="483.5" y="0" transform="translate(0,58.68) scale(1,0.96)">Sensor-4</text><line x1="469" y1="64.40" x2="482" y2="64.40" stroke="#77ac30" stroke-opacity="0.25" stroke-width="0.7" stroke-dasharray="1 0.8"/><text x="483.5" y="0" transform="translate(0,66.90) scale(1,0.96)">Sensor-5</text><line x1="469" y1="72.62" x2="482" y2="72.62" stroke="#3cbcf0" stroke-opacity="1" stroke-width="1.3"/><text x="483.5" y="0" transform="translate(0,75.12) scale(1,0.96)">#1 Test-Fusion</text><line x1="469" y1="80.84" x2="482" y2="80.84" stroke="#c84a6c" stroke-opacity="1" stroke-width="1.3"/><text x="483.5" y="0" transform="translate(0,83.34) scale(1,0.96)">#2 Test-Fusion</text><line x1="469" y1="89.06" x2="482" y2="89.06" stroke="#2a7fcc" stroke-opacity="1" stroke-width="1.3"/><text x="483.5" y="0" transform="translate(0,91.56) scale(1,0.96)">#3 Test-Fusion</text><line x1="469" y1="97.28" x2="482" y2="97.28" stroke="#f25c22" stroke-opacity="1" stroke-width="1.3"/><text x="483.5" y="0" transform="translate(0,99.78) scale(1,0.96)">#4 Test-Fusion</text></g>
</svg>
</body></html>
